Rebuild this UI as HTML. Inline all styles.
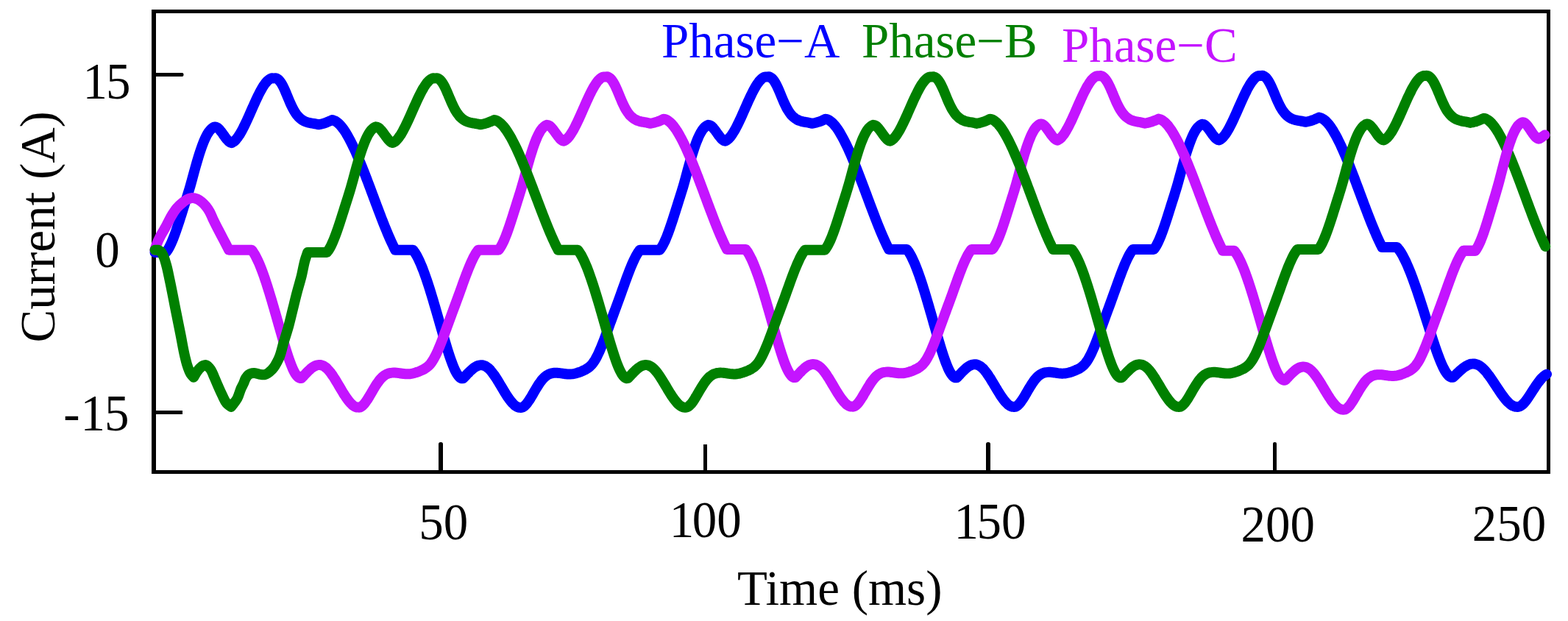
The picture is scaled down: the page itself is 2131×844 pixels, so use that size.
<!DOCTYPE html>
<html><head><meta charset="utf-8"><title>Three-phase current</title>
<style>html,body{margin:0;padding:0;background:#fff;}svg{display:block;}</style>
</head><body>
<svg width="2131" height="844" viewBox="0 0 2131 844">
<rect width="2131" height="844" fill="#fff"/>
<g fill="#000">
<rect x="206" y="13" width="6" height="631"/>
<rect x="2102" y="13" width="5" height="631"/>
<rect x="206" y="13" width="1901" height="5"/>
<rect x="206" y="639" width="1901" height="5"/>
<rect x="206" y="99" width="43.5" height="5" rx="2"/>
<rect x="206" y="558" width="42" height="5"/>
<rect x="596" y="601" width="6" height="40" rx="2.5"/>
<rect x="956" y="604" width="5" height="37"/>
<rect x="1340" y="601" width="6" height="40" rx="2.5"/>
<rect x="1730" y="601" width="5" height="40" rx="2"/>
</g>
<g fill="none" stroke-width="14" stroke-linejoin="round" stroke-linecap="round">
<path d="M210.50 343.00 L225.50 343.00 C226.17 342.12 226.88 341.26 227.51 340.35 C228.23 339.28 228.88 338.17 229.51 337.04 C230.23 335.77 230.88 334.47 231.52 333.16 C232.22 331.70 232.88 330.22 233.52 328.74 C234.22 327.13 234.88 325.50 235.53 323.87 C236.22 322.12 236.88 320.36 237.53 318.59 C238.22 316.73 238.88 314.85 239.54 312.98 C240.22 311.02 240.89 309.05 241.54 307.09 C242.22 305.05 242.89 303.02 243.55 300.98 C244.23 298.90 244.89 296.81 245.55 294.72 C246.23 292.61 246.89 290.49 247.56 288.38 C248.23 286.25 248.90 284.13 249.57 282.00 C250.23 279.89 250.90 277.77 251.57 275.66 C252.24 273.56 252.91 271.45 253.58 269.34 C254.25 267.21 254.92 265.07 255.58 262.93 C256.26 260.71 256.93 258.49 257.59 256.27 C258.27 253.93 258.94 251.59 259.59 249.24 C260.28 246.81 260.93 244.36 261.60 241.92 C262.27 239.45 262.93 236.98 263.60 234.52 C264.27 232.09 264.93 229.66 265.61 227.24 C266.27 224.89 266.93 222.55 267.61 220.22 C268.27 217.98 268.93 215.74 269.62 213.51 C270.27 211.40 270.94 209.28 271.63 207.17 C272.28 205.19 272.94 203.21 273.63 201.24 C274.28 199.41 274.94 197.58 275.64 195.77 C276.28 194.10 276.94 192.44 277.64 190.80 C278.28 189.32 278.93 187.84 279.65 186.39 C280.28 185.11 280.93 183.83 281.65 182.59 C282.28 181.51 282.94 180.43 283.66 179.41 C284.29 178.52 284.94 177.65 285.66 176.84 C286.29 176.13 286.95 175.44 287.67 174.83 C288.30 174.30 288.96 173.79 289.68 173.37 C290.31 172.99 291.01 172.73 291.68 172.41 C292.32 172.49 292.98 172.46 293.60 172.64 C294.30 172.85 294.92 173.25 295.52 173.65 C296.23 174.11 296.84 174.70 297.45 175.29 C298.13 175.95 298.75 176.68 299.37 177.41 C300.04 178.20 300.66 179.03 301.29 179.86 C301.95 180.73 302.57 181.63 303.21 182.51 C303.86 183.40 304.48 184.31 305.13 185.20 C305.77 186.07 306.39 186.94 307.06 187.78 C307.68 188.58 308.30 189.37 308.98 190.12 C309.59 190.79 310.21 191.47 310.90 192.05 C311.50 192.56 312.12 193.08 312.82 193.44 C313.43 193.75 314.10 193.91 314.74 194.14 C315.40 193.81 316.09 193.53 316.72 193.14 C317.42 192.71 318.07 192.18 318.69 191.64 C319.40 191.03 320.04 190.35 320.67 189.66 C321.37 188.89 322.01 188.07 322.64 187.25 C323.33 186.34 323.98 185.40 324.62 184.45 C325.30 183.42 325.95 182.36 326.59 181.30 C327.27 180.16 327.92 179.00 328.56 177.84 C329.24 176.61 329.90 175.37 330.54 174.12 C331.21 172.81 331.87 171.49 332.51 170.17 C333.18 168.79 333.84 167.41 334.49 166.03 C335.15 164.61 335.81 163.18 336.46 161.75 C337.13 160.29 337.78 158.82 338.44 157.36 C339.10 155.88 339.75 154.39 340.41 152.91 C341.07 151.42 341.73 149.93 342.38 148.44 C343.04 146.95 343.70 145.47 344.36 143.98 C345.01 142.52 345.67 141.05 346.33 139.59 C346.99 138.15 347.64 136.72 348.31 135.29 C348.96 133.90 349.61 132.52 350.28 131.14 C350.93 129.81 351.58 128.48 352.26 127.16 C352.90 125.91 353.55 124.65 354.23 123.41 C354.87 122.24 355.52 121.07 356.21 119.93 C356.84 118.85 357.49 117.78 358.18 116.74 C358.81 115.78 359.46 114.82 360.15 113.90 C360.78 113.06 361.43 112.23 362.13 111.45 C362.76 110.75 363.40 110.05 364.10 109.42 C364.73 108.87 365.37 108.32 366.08 107.87 C366.70 107.46 367.35 107.08 368.05 106.81 C368.69 106.57 369.35 106.38 370.03 106.31 C370.68 106.25 371.34 106.37 372.00 106.40 C372.68 106.31 373.35 106.09 374.03 106.14 C374.73 106.18 375.41 106.41 376.06 106.70 C376.80 107.03 377.45 107.54 378.08 108.05 C378.84 108.67 379.48 109.41 380.11 110.15 C380.86 111.04 381.50 112.00 382.14 112.97 C382.87 114.09 383.53 115.27 384.17 116.45 C384.89 117.80 385.54 119.17 386.19 120.55 C386.90 122.06 387.56 123.59 388.22 125.12 C388.91 126.72 389.58 128.34 390.25 129.95 C390.93 131.59 391.59 133.22 392.28 134.85 C392.94 136.44 393.61 138.03 394.30 139.60 C394.96 141.08 395.63 142.57 396.33 144.03 C396.98 145.39 397.65 146.74 398.36 148.07 C399.00 149.28 399.67 150.47 400.39 151.64 C401.03 152.69 401.70 153.72 402.41 154.72 C403.06 155.62 403.73 156.50 404.44 157.34 C405.09 158.11 405.76 158.85 406.47 159.56 C407.12 160.20 407.79 160.82 408.50 161.40 C409.15 161.94 409.82 162.44 410.52 162.91 C411.18 163.35 411.86 163.76 412.55 164.14 C413.21 164.49 413.89 164.82 414.58 165.11 C415.24 165.39 415.92 165.65 416.61 165.88 C417.27 166.10 417.95 166.29 418.63 166.47 C419.30 166.65 419.98 166.80 420.66 166.94 C421.33 167.08 422.01 167.21 422.69 167.33 C423.36 167.45 424.04 167.55 424.72 167.66 C425.39 167.78 426.07 167.88 426.74 168.00 C427.42 168.11 428.10 168.23 428.77 168.36 C429.45 168.50 430.13 168.64 430.80 168.81 C431.48 168.97 432.15 169.18 432.83 169.37 C433.51 169.23 434.20 169.09 434.88 168.95 C435.56 168.80 436.25 168.66 436.93 168.49 C437.62 168.33 438.31 168.16 438.99 167.98 C439.67 167.79 440.36 167.58 441.04 167.36 C441.73 167.14 442.41 166.89 443.09 166.64 C443.78 166.38 444.46 166.11 445.14 165.83 C445.83 165.55 446.52 165.25 447.20 164.95 C447.88 164.65 448.57 164.34 449.25 164.03 C449.94 163.72 450.62 163.40 451.30 163.09 C451.97 163.24 452.65 163.33 453.30 163.54 C453.99 163.76 454.65 164.05 455.30 164.37 C455.99 164.72 456.65 165.13 457.30 165.56 C457.99 166.03 458.65 166.56 459.29 167.10 C459.99 167.69 460.65 168.32 461.29 168.96 C461.99 169.66 462.65 170.39 463.29 171.13 C463.98 171.93 464.64 172.76 465.29 173.59 C465.98 174.49 466.64 175.40 467.28 176.33 C467.97 177.31 468.63 178.32 469.28 179.33 C469.97 180.39 470.63 181.48 471.28 182.56 C471.96 183.71 472.63 184.86 473.28 186.03 C473.96 187.24 474.62 188.47 475.27 189.70 C475.95 190.98 476.62 192.27 477.27 193.56 C477.95 194.91 478.61 196.26 479.27 197.61 C479.95 199.01 480.61 200.42 481.27 201.83 C481.94 203.28 482.61 204.74 483.27 206.21 C483.94 207.71 484.60 209.22 485.26 210.73 C485.94 212.27 486.60 213.83 487.26 215.38 C487.93 216.97 488.60 218.56 489.26 220.16 C489.93 221.79 490.60 223.42 491.26 225.05 C491.93 226.71 492.59 228.37 493.25 230.04 C493.92 231.73 494.59 233.42 495.25 235.12 C495.92 236.83 496.59 238.55 497.25 240.27 C497.92 242.01 498.58 243.75 499.25 245.49 C499.91 247.25 500.58 249.00 501.24 250.76 C501.91 252.53 502.58 254.31 503.24 256.08 C503.91 257.86 504.57 259.64 505.24 261.42 C505.91 263.21 506.57 264.99 507.24 266.78 C507.90 268.57 508.57 270.35 509.23 272.14 C509.90 273.92 510.56 275.70 511.23 277.49 C511.90 279.26 512.56 281.03 513.23 282.81 C513.89 284.57 514.56 286.33 515.23 288.09 C515.89 289.83 516.55 291.58 517.22 293.32 C517.89 295.04 518.55 296.76 519.22 298.48 C519.88 300.18 520.55 301.88 521.22 303.57 C521.88 305.24 522.54 306.90 523.22 308.56 C523.88 310.19 524.54 311.82 525.21 313.45 C525.87 315.04 526.54 316.63 527.21 318.22 C527.87 319.77 528.53 321.31 529.21 322.85 C529.87 324.35 530.53 325.85 531.21 327.34 C531.86 328.79 532.53 330.23 533.20 331.67 C533.86 333.06 534.52 334.45 535.20 335.83 C535.86 337.16 536.53 338.48 537.20 339.80 L561.30 339.80 C561.97 340.70 562.67 341.57 563.31 342.49 C564.02 343.51 564.67 344.58 565.31 345.65 C566.02 346.83 566.68 348.04 567.32 349.26 C568.02 350.59 568.68 351.93 569.32 353.29 C570.02 354.75 570.68 356.23 571.33 357.71 C572.02 359.30 572.69 360.90 573.34 362.50 C574.02 364.20 574.69 365.91 575.34 367.63 C576.03 369.43 576.69 371.25 577.35 373.06 C578.03 374.97 578.70 376.87 579.35 378.78 C580.04 380.77 580.70 382.76 581.36 384.76 C582.04 386.82 582.71 388.89 583.36 390.96 C584.04 393.09 584.71 395.22 585.37 397.36 C586.05 399.55 586.71 401.74 587.38 403.93 C588.05 406.17 588.72 408.40 589.38 410.64 C590.06 412.92 590.72 415.20 591.39 417.48 C592.06 419.78 592.73 422.09 593.39 424.40 C594.07 426.72 594.73 429.05 595.40 431.38 C596.07 433.71 596.74 436.05 597.41 438.38 C598.07 440.72 598.74 443.05 599.41 445.39 C600.08 447.71 600.75 450.03 601.42 452.35 C602.08 454.65 602.75 456.95 603.42 459.25 C604.09 461.51 604.75 463.78 605.43 466.04 C606.09 468.25 606.76 470.46 607.44 472.67 C608.09 474.81 608.76 476.95 609.44 479.08 C610.10 481.13 610.76 483.17 611.45 485.20 C612.10 487.12 612.76 489.05 613.45 490.95 C614.10 492.73 614.76 494.50 615.46 496.26 C616.10 497.86 616.75 499.46 617.46 501.03 C618.10 502.44 618.75 503.84 619.47 505.21 C620.10 506.39 620.74 507.58 621.48 508.70 C622.10 509.64 622.73 510.59 623.48 511.43 C624.10 512.11 624.72 512.81 625.49 513.32 C626.11 513.73 626.77 514.14 627.49 514.29 C628.15 514.43 628.83 514.27 629.50 514.27 C630.16 513.57 630.82 512.88 631.48 512.18 C632.14 511.48 632.80 510.77 633.46 510.07 C634.12 509.38 634.78 508.68 635.45 507.99 C636.10 507.30 636.76 506.62 637.43 505.95 C638.08 505.30 638.74 504.65 639.41 504.01 C640.06 503.40 640.72 502.79 641.39 502.20 C642.04 501.64 642.70 501.09 643.37 500.57 C644.02 500.07 644.68 499.58 645.36 499.14 C646.00 498.72 646.66 498.31 647.34 497.96 C647.98 497.62 648.64 497.31 649.32 497.06 C649.97 496.82 650.63 496.62 651.30 496.48 C651.95 496.34 652.62 496.25 653.28 496.22 C653.95 496.19 654.61 496.21 655.27 496.29 C655.94 496.37 656.60 496.52 657.25 496.70 C657.93 496.90 658.59 497.16 659.23 497.46 C659.92 497.78 660.58 498.15 661.21 498.56 C661.90 499.00 662.56 499.50 663.19 500.02 C663.89 500.59 664.54 501.21 665.18 501.84 C665.87 502.53 666.52 503.26 667.16 503.99 C667.85 504.78 668.50 505.60 669.14 506.43 C669.82 507.31 670.48 508.21 671.12 509.12 C671.80 510.07 672.46 511.04 673.11 512.01 C673.78 513.02 674.44 514.05 675.09 515.08 C675.76 516.13 676.41 517.20 677.07 518.27 C677.74 519.35 678.39 520.45 679.05 521.54 C679.72 522.65 680.37 523.76 681.03 524.87 C681.69 525.98 682.35 527.09 683.02 528.20 C683.67 529.30 684.33 530.40 685.00 531.49 C685.65 532.57 686.31 533.65 686.98 534.71 C687.63 535.76 688.29 536.79 688.96 537.82 C689.61 538.81 690.27 539.80 690.94 540.77 C691.59 541.70 692.24 542.62 692.93 543.52 C693.57 544.38 694.22 545.22 694.91 546.04 C695.55 546.80 696.20 547.56 696.89 548.28 C697.53 548.94 698.18 549.60 698.87 550.20 C699.51 550.75 700.16 551.29 700.85 551.76 C701.49 552.19 702.14 552.60 702.84 552.93 C703.47 553.23 704.13 553.49 704.82 553.65 C705.47 553.81 706.14 553.82 706.80 553.90 C707.47 553.90 708.15 554.02 708.81 553.91 C709.51 553.78 710.18 553.49 710.82 553.17 C711.55 552.80 712.20 552.28 712.83 551.77 C713.56 551.17 714.20 550.48 714.84 549.79 C715.56 549.01 716.21 548.17 716.85 547.33 C717.56 546.40 718.21 545.43 718.86 544.46 C719.55 543.41 720.21 542.35 720.87 541.28 C721.55 540.17 722.22 539.04 722.88 537.91 C723.56 536.76 724.22 535.61 724.89 534.46 C725.56 533.31 726.22 532.16 726.90 531.01 C727.56 529.88 728.23 528.75 728.91 527.63 C729.57 526.54 730.23 525.45 730.92 524.37 C731.58 523.34 732.24 522.31 732.93 521.30 C733.58 520.34 734.24 519.38 734.94 518.46 C735.59 517.59 736.25 516.73 736.95 515.91 C737.59 515.15 738.25 514.40 738.96 513.70 C739.60 513.06 740.27 512.44 740.97 511.86 C741.61 511.32 742.28 510.82 742.98 510.35 C743.63 509.92 744.30 509.51 744.99 509.15 C745.64 508.81 746.31 508.49 747.00 508.22 C747.65 507.96 748.33 507.74 749.01 507.55 C749.67 507.36 750.34 507.22 751.02 507.10 C751.68 506.98 752.35 506.90 753.03 506.84 C753.70 506.78 754.37 506.75 755.04 506.74 C755.71 506.73 756.38 506.75 757.05 506.78 C757.72 506.81 758.39 506.86 759.06 506.93 C759.73 506.99 760.40 507.07 761.07 507.15 C761.74 507.24 762.41 507.33 763.08 507.43 C763.75 507.52 764.42 507.63 765.09 507.73 C765.76 507.82 766.43 507.93 767.10 508.02 C767.77 508.11 768.43 508.20 769.11 508.28 C769.78 508.35 770.44 508.42 771.12 508.47 C771.79 508.52 772.46 508.56 773.13 508.57 C773.80 508.59 774.47 508.58 775.14 508.56 C775.81 508.53 776.48 508.48 777.15 508.40 C777.82 508.33 778.49 508.23 779.16 508.12 C779.83 508.00 780.50 507.87 781.17 507.72 C781.84 507.56 782.51 507.39 783.18 507.21 C783.85 507.02 784.52 506.82 785.19 506.60 C785.86 506.38 786.53 506.15 787.20 505.91 C787.87 505.66 788.54 505.40 789.20 505.14 C789.88 504.87 790.55 504.59 791.21 504.30 C791.89 504.01 792.56 503.72 793.22 503.41 C793.90 503.10 794.57 502.78 795.23 502.44 C795.91 502.09 796.59 501.72 797.24 501.33 C797.93 500.92 798.60 500.48 799.25 500.02 C799.95 499.52 800.62 498.99 801.26 498.44 C801.96 497.83 802.63 497.19 803.27 496.52 C803.98 495.78 804.65 495.01 805.28 494.21 C806.00 493.31 806.66 492.38 807.29 491.43 C808.01 490.37 808.66 489.27 809.30 488.17 C810.01 486.95 810.67 485.71 811.31 484.46 C812.01 483.11 812.67 481.74 813.32 480.36 C814.02 478.88 814.68 477.40 815.33 475.90 C816.02 474.33 816.69 472.74 817.34 471.15 C818.03 469.49 818.69 467.81 819.35 466.14 C820.04 464.41 820.70 462.67 821.36 460.93 C822.04 459.14 822.71 457.35 823.37 455.56 C824.05 453.73 824.72 451.91 825.38 450.08 C826.06 448.24 826.72 446.39 827.39 444.54 C828.06 442.69 828.73 440.84 829.40 438.99 C830.07 437.15 830.74 435.32 831.41 433.48 C832.08 431.65 832.75 429.83 833.42 428.00 C834.09 426.18 834.76 424.36 835.43 422.54 C836.10 420.72 836.77 418.90 837.44 417.08 C838.11 415.26 838.78 413.44 839.45 411.61 C840.12 409.78 840.79 407.95 841.46 406.11 C842.13 404.26 842.80 402.42 843.47 400.57 C844.14 398.70 844.81 396.83 845.48 394.96 C846.15 393.09 846.82 391.22 847.49 389.34 C848.16 387.48 848.83 385.61 849.50 383.75 C850.17 381.91 850.83 380.07 851.51 378.23 C852.17 376.43 852.84 374.64 853.52 372.84 C854.18 371.10 854.85 369.35 855.53 367.62 C856.19 365.94 856.85 364.27 857.54 362.61 C858.20 361.02 858.86 359.44 859.55 357.87 C860.20 356.38 860.87 354.91 861.56 353.44 C862.21 352.07 862.87 350.71 863.57 349.37 C864.21 348.14 864.87 346.91 865.58 345.71 C866.22 344.62 866.88 343.54 867.59 342.50 C868.23 341.58 868.93 340.70 869.60 339.80 L896.50 339.80 C897.17 338.92 897.88 338.07 898.50 337.16 C899.23 336.11 899.87 335.00 900.50 333.88 C901.21 332.61 901.86 331.31 902.50 330.01 C903.20 328.56 903.86 327.09 904.50 325.61 C905.20 324.01 905.85 322.39 906.50 320.76 C907.19 319.02 907.85 317.26 908.50 315.50 C909.19 313.64 909.85 311.78 910.50 309.91 C911.18 307.96 911.84 306.00 912.50 304.04 C913.18 302.01 913.84 299.98 914.50 297.95 C915.17 295.88 915.84 293.80 916.50 291.72 C917.17 289.61 917.83 287.50 918.50 285.39 C919.17 283.27 919.83 281.15 920.50 279.04 C921.17 276.93 921.83 274.82 922.50 272.72 C923.17 270.62 923.84 268.52 924.50 266.42 C925.17 264.29 925.84 262.16 926.50 260.02 C927.18 257.81 927.85 255.60 928.50 253.38 C929.18 251.06 929.85 248.72 930.50 246.38 C931.18 243.95 931.84 241.52 932.50 239.08 C933.17 236.62 933.83 234.16 934.50 231.70 C935.16 229.28 935.82 226.86 936.50 224.44 C937.16 222.10 937.82 219.77 938.50 217.44 C939.15 215.21 939.82 212.98 940.50 210.76 C941.15 208.65 941.81 206.54 942.50 204.44 C943.15 202.46 943.81 200.49 944.50 198.53 C945.14 196.70 945.80 194.88 946.50 193.07 C947.14 191.42 947.80 189.76 948.50 188.13 C949.14 186.65 949.79 185.18 950.50 183.74 C951.13 182.46 951.78 181.19 952.50 179.95 C953.13 178.88 953.78 177.81 954.50 176.79 C955.13 175.91 955.78 175.04 956.50 174.24 C957.13 173.54 957.78 172.85 958.50 172.25 C959.13 171.72 959.79 171.21 960.50 170.80 C961.14 170.43 961.83 170.17 962.50 169.86 C963.14 169.94 963.80 169.91 964.42 170.10 C965.11 170.31 965.73 170.72 966.33 171.12 C967.03 171.59 967.65 172.18 968.25 172.77 C968.94 173.44 969.55 174.17 970.17 174.91 C970.84 175.70 971.46 176.54 972.08 177.37 C972.74 178.25 973.36 179.14 974.00 180.03 C974.64 180.93 975.27 181.84 975.92 182.73 C976.55 183.60 977.17 184.48 977.83 185.33 C978.45 186.13 979.07 186.93 979.75 187.68 C980.36 188.35 980.97 189.03 981.67 189.62 C982.27 190.14 982.88 190.66 983.58 191.02 C984.19 191.34 984.86 191.50 985.50 191.73 C986.16 191.41 986.84 191.14 987.47 190.76 C988.17 190.33 988.81 189.80 989.44 189.26 C990.14 188.66 990.78 187.99 991.41 187.30 C992.10 186.54 992.75 185.73 993.38 184.91 C994.07 184.01 994.71 183.07 995.34 182.13 C996.03 181.10 996.68 180.05 997.31 179.00 C997.99 177.86 998.64 176.71 999.28 175.56 C999.96 174.33 1000.61 173.09 1001.25 171.85 C1001.92 170.55 1002.58 169.23 1003.22 167.92 C1003.89 166.55 1004.54 165.17 1005.19 163.80 C1005.86 162.38 1006.51 160.96 1007.16 159.53 C1007.82 158.08 1008.48 156.62 1009.13 155.16 C1009.79 153.69 1010.44 152.21 1011.10 150.73 C1011.75 149.25 1012.41 147.76 1013.07 146.28 C1013.72 144.80 1014.37 143.32 1015.03 141.84 C1015.69 140.38 1016.34 138.92 1017.00 137.47 C1017.65 136.04 1018.31 134.61 1018.97 133.19 C1019.62 131.81 1020.27 130.43 1020.94 129.05 C1021.59 127.73 1022.24 126.41 1022.91 125.10 C1023.55 123.85 1024.20 122.60 1024.88 121.37 C1025.52 120.20 1026.17 119.04 1026.85 117.90 C1027.48 116.83 1028.13 115.77 1028.82 114.73 C1029.45 113.77 1030.10 112.82 1030.79 111.91 C1031.41 111.08 1032.06 110.25 1032.76 109.47 C1033.38 108.77 1034.02 108.09 1034.72 107.46 C1035.35 106.91 1035.99 106.37 1036.69 105.92 C1037.32 105.52 1037.97 105.14 1038.66 104.88 C1039.30 104.65 1039.96 104.46 1040.63 104.40 C1041.29 104.34 1041.94 104.47 1042.60 104.50 C1043.28 104.42 1043.95 104.20 1044.63 104.25 C1045.33 104.30 1046.02 104.54 1046.66 104.83 C1047.40 105.16 1048.06 105.68 1048.69 106.19 C1049.44 106.82 1050.09 107.56 1050.72 108.31 C1051.47 109.20 1052.12 110.17 1052.75 111.14 C1053.49 112.27 1054.14 113.45 1054.78 114.63 C1055.51 115.98 1056.16 117.36 1056.81 118.75 C1057.52 120.26 1058.18 121.79 1058.84 123.32 C1059.53 124.93 1060.20 126.55 1060.87 128.17 C1061.55 129.80 1062.21 131.44 1062.90 133.08 C1063.57 134.67 1064.23 136.26 1064.93 137.83 C1065.59 139.32 1066.26 140.81 1066.96 142.28 C1067.61 143.64 1068.28 145.00 1068.99 146.33 C1069.64 147.54 1070.30 148.74 1071.02 149.91 C1071.66 150.96 1072.33 151.99 1073.05 153.00 C1073.70 153.90 1074.37 154.79 1075.08 155.64 C1075.73 156.40 1076.40 157.15 1077.11 157.86 C1077.76 158.51 1078.43 159.13 1079.14 159.72 C1079.79 160.26 1080.47 160.77 1081.17 161.24 C1081.83 161.69 1082.50 162.10 1083.20 162.48 C1083.86 162.84 1084.54 163.17 1085.23 163.47 C1085.90 163.76 1086.57 164.01 1087.26 164.25 C1087.93 164.48 1088.61 164.68 1089.29 164.86 C1089.96 165.04 1090.64 165.20 1091.32 165.35 C1091.99 165.49 1092.67 165.62 1093.35 165.74 C1094.03 165.87 1094.70 165.98 1095.38 166.10 C1096.06 166.21 1096.73 166.32 1097.41 166.44 C1098.09 166.56 1098.77 166.68 1099.44 166.82 C1100.12 166.96 1100.80 167.11 1101.47 167.28 C1102.15 167.45 1102.82 167.66 1103.50 167.86 C1104.19 167.72 1104.87 167.59 1105.56 167.45 C1106.24 167.31 1106.93 167.17 1107.61 167.02 C1108.30 166.86 1108.99 166.70 1109.67 166.51 C1110.36 166.33 1111.04 166.13 1111.72 165.92 C1112.41 165.70 1113.10 165.46 1113.78 165.21 C1114.47 164.96 1115.15 164.69 1115.83 164.41 C1116.52 164.14 1117.21 163.85 1117.89 163.55 C1118.58 163.26 1119.26 162.95 1119.94 162.65 C1120.63 162.34 1121.31 162.03 1122.00 161.72 C1122.67 161.87 1123.35 161.98 1124.00 162.19 C1124.69 162.41 1125.35 162.70 1126.00 163.03 C1126.69 163.38 1127.36 163.80 1128.00 164.24 C1128.70 164.71 1129.36 165.24 1130.00 165.79 C1130.70 166.38 1131.36 167.01 1132.00 167.66 C1132.69 168.36 1133.36 169.10 1134.00 169.84 C1134.69 170.65 1135.35 171.48 1136.00 172.32 C1136.69 173.22 1137.35 174.14 1138.00 175.07 C1138.69 176.06 1139.35 177.06 1140.00 178.08 C1140.69 179.15 1141.35 180.23 1142.00 181.32 C1142.68 182.47 1143.35 183.63 1144.00 184.80 C1144.68 186.02 1145.35 187.25 1146.00 188.48 C1146.68 189.77 1147.35 191.06 1148.00 192.36 C1148.68 193.70 1149.34 195.06 1150.00 196.42 C1150.68 197.82 1151.34 199.23 1152.00 200.65 C1152.68 202.10 1153.34 203.57 1154.00 205.03 C1154.68 206.54 1155.34 208.05 1156.00 209.56 C1156.68 211.12 1157.34 212.67 1158.00 214.23 C1158.67 215.82 1159.34 217.42 1160.00 219.02 C1160.67 220.65 1161.34 222.28 1162.00 223.92 C1162.67 225.58 1163.34 227.25 1164.00 228.92 C1164.67 230.61 1165.34 232.31 1166.00 234.00 C1166.67 235.72 1167.34 237.44 1168.00 239.17 C1168.67 240.91 1169.34 242.65 1170.00 244.40 C1170.67 246.16 1171.34 247.92 1172.00 249.68 C1172.67 251.46 1173.33 253.23 1174.00 255.01 C1174.67 256.79 1175.33 258.57 1176.00 260.36 C1176.67 262.15 1177.33 263.94 1178.00 265.73 C1178.67 267.52 1179.33 269.31 1180.00 271.10 C1180.67 272.88 1181.33 274.67 1182.00 276.45 C1182.67 278.23 1183.33 280.01 1184.00 281.78 C1184.66 283.55 1185.33 285.31 1186.00 287.08 C1186.66 288.82 1187.33 290.57 1188.00 292.32 C1188.66 294.04 1189.33 295.77 1190.00 297.49 C1190.66 299.19 1191.33 300.89 1192.00 302.59 C1192.66 304.26 1193.33 305.92 1194.00 307.59 C1194.66 309.22 1195.33 310.86 1196.00 312.49 C1196.66 314.08 1197.33 315.68 1198.00 317.26 C1198.66 318.82 1199.32 320.37 1200.00 321.91 C1200.66 323.41 1201.32 324.91 1202.00 326.41 C1202.66 327.86 1203.32 329.31 1204.00 330.75 C1204.66 332.14 1205.32 333.53 1206.00 334.92 C1206.65 336.25 1207.33 337.57 1208.00 338.90 L1232.50 338.90 C1233.17 339.79 1233.86 340.67 1234.50 341.58 C1235.20 342.61 1235.86 343.67 1236.49 344.74 C1237.19 345.93 1237.85 347.14 1238.49 348.35 C1239.19 349.68 1239.84 351.03 1240.48 352.38 C1241.18 353.84 1241.84 355.32 1242.48 356.80 C1243.17 358.39 1243.83 359.99 1244.48 361.59 C1245.16 363.29 1245.82 365.00 1246.47 366.71 C1247.16 368.52 1247.82 370.33 1248.47 372.15 C1249.15 374.05 1249.81 375.95 1250.47 377.86 C1251.15 379.85 1251.81 381.84 1252.46 383.83 C1253.14 385.89 1253.80 387.96 1254.46 390.03 C1255.13 392.16 1255.80 394.29 1256.45 396.43 C1257.13 398.61 1257.79 400.80 1258.45 402.99 C1259.12 405.23 1259.79 407.47 1260.45 409.70 C1261.12 411.98 1261.78 414.26 1262.44 416.53 C1263.11 418.84 1263.78 421.14 1264.44 423.45 C1265.11 425.77 1265.77 428.10 1266.44 430.42 C1267.10 432.76 1267.77 435.09 1268.43 437.43 C1269.10 439.76 1269.76 442.09 1270.43 444.43 C1271.09 446.75 1271.76 449.07 1272.42 451.39 C1273.09 453.69 1273.75 455.98 1274.42 458.28 C1275.08 460.54 1275.74 462.81 1276.42 465.07 C1277.08 467.28 1277.74 469.49 1278.41 471.70 C1279.07 473.83 1279.73 475.97 1280.41 478.10 C1281.06 480.14 1281.72 482.19 1282.41 484.22 C1283.05 486.14 1283.71 488.06 1284.40 489.97 C1285.05 491.74 1285.70 493.51 1286.40 495.27 C1287.04 496.87 1287.69 498.47 1288.39 500.04 C1289.03 501.45 1289.67 502.85 1290.39 504.21 C1291.02 505.40 1291.65 506.58 1292.39 507.70 C1293.00 508.64 1293.63 509.59 1294.38 510.43 C1295.00 511.11 1295.62 511.81 1296.38 512.32 C1296.99 512.73 1297.65 513.14 1298.38 513.29 C1299.03 513.43 1299.71 513.28 1300.37 513.27 C1301.03 512.57 1301.69 511.88 1302.34 511.18 C1303.00 510.48 1303.66 509.78 1304.32 509.08 C1304.97 508.38 1305.63 507.68 1306.29 506.99 C1306.94 506.31 1307.60 505.63 1308.26 504.96 C1308.91 504.31 1309.57 503.66 1310.23 503.02 C1310.88 502.41 1311.53 501.80 1312.21 501.22 C1312.85 500.66 1313.50 500.11 1314.18 499.58 C1314.82 499.09 1315.47 498.60 1316.15 498.16 C1316.79 497.74 1317.45 497.33 1318.12 496.98 C1318.76 496.64 1319.42 496.33 1320.10 496.08 C1320.74 495.84 1321.40 495.64 1322.07 495.50 C1322.72 495.36 1323.38 495.27 1324.04 495.24 C1324.70 495.21 1325.36 495.24 1326.01 495.32 C1326.68 495.40 1327.34 495.54 1327.99 495.73 C1328.66 495.92 1329.32 496.18 1329.96 496.48 C1330.64 496.80 1331.30 497.18 1331.93 497.59 C1332.62 498.03 1333.27 498.53 1333.90 499.05 C1334.60 499.61 1335.24 500.23 1335.88 500.86 C1336.57 501.55 1337.21 502.28 1337.85 503.01 C1338.53 503.80 1339.18 504.62 1339.82 505.45 C1340.50 506.33 1341.15 507.23 1341.79 508.14 C1342.47 509.09 1343.12 510.06 1343.77 511.03 C1344.44 512.04 1345.09 513.07 1345.74 514.09 C1346.41 515.15 1347.06 516.21 1347.71 517.28 C1348.38 518.37 1349.03 519.46 1349.68 520.56 C1350.35 521.66 1351.00 522.77 1351.66 523.88 C1352.32 524.99 1352.97 526.10 1353.63 527.21 C1354.28 528.31 1354.94 529.41 1355.60 530.50 C1356.25 531.58 1356.91 532.65 1357.57 533.72 C1358.22 534.76 1358.88 535.80 1359.55 536.83 C1360.19 537.82 1360.85 538.80 1361.52 539.77 C1362.16 540.70 1362.81 541.62 1363.49 542.53 C1364.13 543.38 1364.78 544.22 1365.46 545.04 C1366.10 545.81 1366.75 546.56 1367.44 547.28 C1368.07 547.94 1368.72 548.60 1369.41 549.20 C1370.04 549.75 1370.69 550.29 1371.38 550.76 C1372.01 551.19 1372.66 551.60 1373.35 551.93 C1373.99 552.23 1374.65 552.49 1375.33 552.65 C1375.97 552.81 1376.64 552.82 1377.30 552.90 C1377.97 552.90 1378.65 553.02 1379.30 552.91 C1380.01 552.79 1380.67 552.49 1381.31 552.17 C1382.03 551.80 1382.68 551.29 1383.31 550.77 C1384.04 550.18 1384.68 549.49 1385.32 548.80 C1386.03 548.02 1386.68 547.18 1387.32 546.33 C1388.03 545.40 1388.68 544.44 1389.33 543.47 C1390.02 542.42 1390.68 541.36 1391.33 540.29 C1392.01 539.18 1392.67 538.05 1393.33 536.93 C1394.01 535.78 1394.67 534.63 1395.34 533.48 C1396.01 532.33 1396.67 531.18 1397.34 530.03 C1398.01 528.90 1398.67 527.78 1399.35 526.66 C1400.01 525.57 1400.67 524.48 1401.35 523.40 C1402.01 522.37 1402.67 521.34 1403.36 520.33 C1404.01 519.37 1404.67 518.42 1405.36 517.49 C1406.01 516.62 1406.67 515.77 1407.36 514.94 C1408.01 514.18 1408.67 513.44 1409.37 512.74 C1410.01 512.10 1410.67 511.48 1411.37 510.90 C1412.02 510.36 1412.68 509.86 1413.38 509.39 C1414.02 508.96 1414.69 508.55 1415.38 508.19 C1416.03 507.85 1416.70 507.54 1417.39 507.27 C1418.04 507.01 1418.71 506.78 1419.39 506.59 C1420.05 506.41 1420.72 506.26 1421.40 506.14 C1422.06 506.03 1422.73 505.94 1423.40 505.88 C1424.07 505.82 1424.73 505.80 1425.40 505.79 C1426.07 505.78 1426.74 505.80 1427.41 505.83 C1428.08 505.86 1428.75 505.91 1429.41 505.97 C1430.08 506.04 1430.75 506.12 1431.42 506.20 C1432.09 506.28 1432.75 506.38 1433.42 506.48 C1434.09 506.57 1434.76 506.68 1435.43 506.78 C1436.09 506.88 1436.76 506.98 1437.43 507.07 C1438.10 507.16 1438.76 507.25 1439.43 507.33 C1440.10 507.40 1440.77 507.47 1441.44 507.52 C1442.11 507.57 1442.77 507.61 1443.44 507.63 C1444.11 507.64 1444.78 507.64 1445.45 507.61 C1446.12 507.58 1446.79 507.53 1447.45 507.46 C1448.12 507.38 1448.79 507.29 1449.46 507.17 C1450.13 507.06 1450.80 506.92 1451.46 506.77 C1452.13 506.62 1452.80 506.45 1453.46 506.26 C1454.14 506.08 1454.80 505.87 1455.47 505.66 C1456.14 505.44 1456.81 505.21 1457.47 504.97 C1458.15 504.72 1458.81 504.46 1459.48 504.20 C1460.15 503.93 1460.82 503.65 1461.48 503.36 C1462.15 503.07 1462.82 502.78 1463.49 502.47 C1464.16 502.16 1464.83 501.84 1465.49 501.50 C1466.17 501.15 1466.84 500.79 1467.49 500.40 C1468.18 499.98 1468.85 499.55 1469.50 499.08 C1470.19 498.59 1470.86 498.06 1471.50 497.50 C1472.20 496.90 1472.87 496.26 1473.51 495.59 C1474.21 494.85 1474.88 494.08 1475.51 493.28 C1476.22 492.39 1476.88 491.45 1477.52 490.51 C1478.23 489.45 1478.88 488.35 1479.52 487.25 C1480.22 486.03 1480.88 484.79 1481.52 483.54 C1482.22 482.19 1482.88 480.82 1483.53 479.44 C1484.22 477.97 1484.88 476.48 1485.53 474.99 C1486.22 473.42 1486.88 471.83 1487.54 470.24 C1488.22 468.58 1488.89 466.91 1489.54 465.24 C1490.22 463.51 1490.89 461.77 1491.55 460.03 C1492.22 458.24 1492.89 456.45 1493.55 454.66 C1494.22 452.84 1494.89 451.02 1495.55 449.19 C1496.23 447.35 1496.89 445.50 1497.56 443.66 C1498.23 441.81 1498.89 439.96 1499.56 438.11 C1500.23 436.27 1500.90 434.44 1501.57 432.60 C1502.23 430.78 1502.90 428.95 1503.57 427.13 C1504.24 425.31 1504.91 423.49 1505.58 421.67 C1506.24 419.85 1506.91 418.04 1507.58 416.22 C1508.25 414.40 1508.92 412.58 1509.59 410.75 C1510.25 408.92 1510.92 407.09 1511.59 405.26 C1512.26 403.41 1512.93 401.56 1513.59 399.72 C1514.26 397.85 1514.93 395.98 1515.60 394.12 C1516.27 392.25 1516.93 390.37 1517.60 388.50 C1518.27 386.64 1518.93 384.78 1519.61 382.92 C1520.27 381.08 1520.94 379.24 1521.61 377.40 C1522.27 375.60 1522.94 373.81 1523.62 372.01 C1524.27 370.27 1524.94 368.53 1525.62 366.79 C1526.28 365.12 1526.94 363.45 1527.62 361.79 C1528.28 360.21 1528.94 358.62 1529.63 357.05 C1530.28 355.57 1530.94 354.09 1531.63 352.63 C1532.28 351.26 1532.94 349.90 1533.64 348.56 C1534.28 347.33 1534.94 346.10 1535.64 344.91 C1536.28 343.82 1536.93 342.74 1537.65 341.70 C1538.28 340.78 1538.98 339.90 1539.65 339.00 L1567.95 339.00 C1568.61 338.12 1569.32 337.27 1569.94 336.35 C1570.67 335.29 1571.31 334.18 1571.93 333.06 C1572.65 331.79 1573.29 330.49 1573.93 329.18 C1574.63 327.73 1575.28 326.26 1575.92 324.78 C1576.61 323.17 1577.27 321.54 1577.91 319.91 C1578.60 318.17 1579.26 316.41 1579.90 314.65 C1580.59 312.79 1581.25 310.92 1581.90 309.05 C1582.58 307.10 1583.24 305.13 1583.89 303.17 C1584.56 301.15 1585.23 299.11 1585.88 297.08 C1586.55 295.00 1587.21 292.92 1587.87 290.84 C1588.54 288.73 1589.20 286.62 1589.87 284.51 C1590.53 282.39 1591.19 280.27 1591.86 278.15 C1592.52 276.04 1593.19 273.93 1593.85 271.82 C1594.52 269.72 1595.19 267.62 1595.84 265.52 C1596.51 263.39 1597.18 261.25 1597.84 259.12 C1598.51 256.91 1599.18 254.69 1599.83 252.47 C1600.51 250.14 1601.17 247.81 1601.82 245.47 C1602.50 243.04 1603.15 240.60 1603.81 238.16 C1604.48 235.70 1605.14 233.23 1605.81 230.77 C1606.47 228.35 1607.12 225.93 1607.80 223.51 C1608.45 221.17 1609.11 218.84 1609.79 216.51 C1610.44 214.27 1611.10 212.04 1611.78 209.82 C1612.43 207.71 1613.09 205.59 1613.78 203.49 C1614.42 201.51 1615.08 199.54 1615.77 197.57 C1616.41 195.75 1617.07 193.92 1617.76 192.12 C1618.40 190.45 1619.05 188.80 1619.75 187.16 C1620.39 185.68 1621.04 184.21 1621.75 182.76 C1622.38 181.48 1623.02 180.21 1623.74 178.97 C1624.36 177.89 1625.01 176.82 1625.73 175.80 C1626.36 174.91 1627.00 174.04 1627.72 173.23 C1628.35 172.53 1629.00 171.84 1629.72 171.23 C1630.34 170.70 1631.00 170.19 1631.71 169.77 C1632.34 169.40 1633.04 169.14 1633.70 168.82 C1634.34 168.90 1635.00 168.87 1635.61 169.05 C1636.30 169.26 1636.92 169.66 1637.52 170.06 C1638.22 170.52 1638.83 171.11 1639.43 171.69 C1640.11 172.35 1640.73 173.08 1641.34 173.81 C1642.01 174.60 1642.63 175.43 1643.25 176.26 C1643.90 177.13 1644.53 178.02 1645.16 178.90 C1645.80 179.80 1646.42 180.70 1647.07 181.59 C1647.70 182.45 1648.32 183.33 1648.98 184.17 C1649.59 184.96 1650.21 185.75 1650.89 186.50 C1651.49 187.17 1652.11 187.84 1652.80 188.43 C1653.40 188.94 1654.01 189.46 1654.71 189.82 C1655.31 190.13 1655.98 190.28 1656.61 190.51 C1657.27 190.18 1657.95 189.91 1658.58 189.52 C1659.28 189.09 1659.92 188.56 1660.54 188.02 C1661.24 187.41 1661.88 186.73 1662.50 186.05 C1663.19 185.28 1663.84 184.47 1664.46 183.64 C1665.15 182.74 1665.79 181.80 1666.42 180.85 C1667.11 179.82 1667.75 178.77 1668.38 177.71 C1669.06 176.58 1669.71 175.42 1670.35 174.26 C1671.02 173.03 1671.67 171.79 1672.31 170.55 C1672.98 169.24 1673.63 167.92 1674.27 166.60 C1674.94 165.23 1675.59 163.86 1676.23 162.48 C1676.89 161.06 1677.54 159.63 1678.19 158.21 C1678.85 156.75 1679.50 155.29 1680.15 153.83 C1680.81 152.35 1681.46 150.87 1682.12 149.39 C1682.77 147.90 1683.42 146.41 1684.08 144.93 C1684.73 143.45 1685.38 141.96 1686.04 140.48 C1686.69 139.02 1687.34 137.56 1688.00 136.10 C1688.65 134.67 1689.30 133.24 1689.96 131.81 C1690.61 130.43 1691.26 129.05 1691.92 127.67 C1692.57 126.34 1693.21 125.02 1693.88 123.71 C1694.52 122.45 1695.17 121.20 1695.85 119.97 C1696.48 118.80 1697.13 117.63 1697.81 116.49 C1698.44 115.42 1699.09 114.35 1699.77 113.31 C1700.40 112.35 1701.04 111.40 1701.73 110.48 C1702.36 109.64 1703.00 108.82 1703.69 108.03 C1704.32 107.33 1704.96 106.64 1705.65 106.01 C1706.27 105.46 1706.92 104.91 1707.62 104.46 C1708.24 104.06 1708.88 103.67 1709.58 103.41 C1710.21 103.17 1710.87 102.98 1711.54 102.91 C1712.19 102.85 1712.85 102.97 1713.50 103.00 C1714.17 102.91 1714.84 102.69 1715.52 102.74 C1716.22 102.78 1716.91 103.02 1717.55 103.30 C1718.29 103.63 1718.94 104.14 1719.57 104.65 C1720.32 105.27 1720.97 106.01 1721.59 106.75 C1722.34 107.63 1722.98 108.59 1723.62 109.56 C1724.35 110.68 1725.00 111.86 1725.64 113.04 C1726.36 114.38 1727.02 115.76 1727.66 117.13 C1728.37 118.64 1729.03 120.16 1729.69 121.69 C1730.38 123.29 1731.04 124.90 1731.71 126.51 C1732.39 128.14 1733.05 129.78 1733.73 131.40 C1734.40 132.99 1735.06 134.57 1735.76 136.14 C1736.41 137.62 1737.08 139.10 1737.78 140.57 C1738.43 141.92 1739.09 143.27 1739.80 144.60 C1740.45 145.80 1741.11 147.00 1741.83 148.16 C1742.47 149.21 1743.13 150.24 1743.85 151.23 C1744.49 152.13 1745.16 153.01 1745.87 153.85 C1746.52 154.62 1747.19 155.36 1747.90 156.06 C1748.54 156.71 1749.21 157.33 1749.92 157.91 C1750.57 158.44 1751.24 158.95 1751.94 159.42 C1752.60 159.85 1753.27 160.26 1753.96 160.64 C1754.62 160.99 1755.30 161.32 1755.99 161.61 C1756.65 161.89 1757.33 162.15 1758.01 162.38 C1758.68 162.60 1759.35 162.79 1760.03 162.97 C1760.70 163.15 1761.38 163.30 1762.06 163.44 C1762.73 163.58 1763.41 163.71 1764.08 163.83 C1764.75 163.95 1765.43 164.05 1766.10 164.16 C1766.78 164.28 1767.45 164.38 1768.13 164.50 C1768.80 164.61 1769.48 164.73 1770.15 164.86 C1770.83 165.00 1771.50 165.14 1772.17 165.31 C1772.85 165.48 1773.52 165.68 1774.20 165.87 C1774.88 165.73 1775.56 165.59 1776.25 165.45 C1776.93 165.31 1777.61 165.16 1778.29 165.00 C1778.98 164.84 1779.66 164.67 1780.34 164.49 C1781.03 164.30 1781.71 164.09 1782.39 163.87 C1783.08 163.65 1783.76 163.41 1784.44 163.16 C1785.13 162.90 1785.81 162.63 1786.49 162.35 C1787.18 162.07 1787.86 161.77 1788.54 161.47 C1789.22 161.17 1789.91 160.86 1790.59 160.55 C1791.27 160.24 1791.95 159.93 1792.64 159.61 C1793.30 159.76 1793.98 159.86 1794.63 160.07 C1795.32 160.28 1795.98 160.58 1796.62 160.90 C1797.31 161.24 1797.97 161.66 1798.62 162.09 C1799.31 162.56 1799.97 163.08 1800.61 163.62 C1801.30 164.21 1801.96 164.84 1802.60 165.48 C1803.30 166.18 1803.95 166.90 1804.60 167.65 C1805.29 168.44 1805.95 169.27 1806.59 170.11 C1807.28 171.00 1807.94 171.91 1808.58 172.84 C1809.27 173.82 1809.93 174.82 1810.58 175.83 C1811.26 176.89 1811.92 177.97 1812.57 179.06 C1813.25 180.20 1813.91 181.36 1814.56 182.52 C1815.24 183.73 1815.90 184.95 1816.56 186.18 C1817.23 187.46 1817.90 188.75 1818.55 190.04 C1819.23 191.38 1819.89 192.73 1820.54 194.08 C1821.22 195.48 1821.88 196.88 1822.54 198.29 C1823.21 199.74 1823.87 201.20 1824.53 202.66 C1825.20 204.16 1825.87 205.66 1826.52 207.17 C1827.20 208.72 1827.86 210.27 1828.52 211.82 C1829.19 213.40 1829.85 214.99 1830.51 216.59 C1831.18 218.21 1831.84 219.84 1832.50 221.47 C1833.17 223.12 1833.84 224.78 1834.50 226.45 C1835.17 228.13 1835.83 229.82 1836.49 231.51 C1837.16 233.23 1837.82 234.94 1838.48 236.66 C1839.15 238.39 1839.81 240.13 1840.48 241.87 C1841.14 243.62 1841.81 245.38 1842.47 247.13 C1843.14 248.90 1843.80 250.67 1844.46 252.44 C1845.13 254.21 1845.79 255.99 1846.46 257.77 C1847.12 259.55 1847.79 261.34 1848.45 263.12 C1849.11 264.90 1849.78 266.68 1850.44 268.47 C1851.11 270.25 1851.77 272.02 1852.44 273.80 C1853.10 275.57 1853.76 277.35 1854.43 279.11 C1855.09 280.87 1855.76 282.63 1856.42 284.39 C1857.08 286.13 1857.75 287.87 1858.42 289.61 C1859.08 291.33 1859.74 293.05 1860.41 294.76 C1861.07 296.46 1861.73 298.15 1862.40 299.84 C1863.06 301.50 1863.73 303.16 1864.40 304.82 C1865.06 306.45 1865.72 308.08 1866.39 309.70 C1867.05 311.29 1867.71 312.88 1868.38 314.46 C1869.04 316.00 1869.70 317.55 1870.38 319.08 C1871.03 320.58 1871.70 322.08 1872.37 323.57 C1873.02 325.01 1873.69 326.45 1874.36 327.89 C1875.02 329.28 1875.68 330.66 1876.36 332.04 C1877.01 333.36 1877.69 334.68 1878.35 336.00 L1898.60 336.00 C1899.35 336.91 1900.13 337.79 1900.84 338.72 C1901.63 339.76 1902.37 340.84 1903.09 341.92 C1903.87 343.12 1904.61 344.35 1905.33 345.58 C1906.11 346.92 1906.85 348.29 1907.57 349.67 C1908.35 351.14 1909.09 352.64 1909.82 354.15 C1910.59 355.75 1911.33 357.37 1912.06 359.00 C1912.83 360.72 1913.57 362.45 1914.30 364.19 C1915.07 366.02 1915.81 367.86 1916.54 369.70 C1917.31 371.62 1918.05 373.56 1918.79 375.49 C1919.55 377.51 1920.29 379.52 1921.03 381.55 C1921.79 383.64 1922.54 385.73 1923.27 387.83 C1924.03 389.98 1924.78 392.15 1925.52 394.31 C1926.27 396.53 1927.02 398.75 1927.76 400.97 C1928.51 403.23 1929.26 405.50 1930.00 407.77 C1930.76 410.08 1931.50 412.38 1932.25 414.69 C1933.00 417.03 1933.74 419.37 1934.49 421.70 C1935.24 424.06 1935.98 426.42 1936.73 428.77 C1937.48 431.14 1938.23 433.51 1938.97 435.87 C1939.72 438.24 1940.47 440.60 1941.22 442.97 C1941.96 445.32 1942.71 447.67 1943.46 450.02 C1944.20 452.35 1944.95 454.68 1945.70 457.01 C1946.45 459.31 1947.19 461.60 1947.95 463.89 C1948.69 466.13 1949.43 468.38 1950.19 470.61 C1950.93 472.78 1951.67 474.95 1952.43 477.11 C1953.16 479.18 1953.91 481.25 1954.68 483.31 C1955.40 485.25 1956.14 487.20 1956.92 489.13 C1957.64 490.93 1958.38 492.73 1959.16 494.50 C1959.88 496.13 1960.61 497.75 1961.40 499.35 C1962.12 500.77 1962.84 502.20 1963.65 503.57 C1964.35 504.78 1965.07 505.98 1965.89 507.11 C1966.59 508.07 1967.30 509.03 1968.13 509.88 C1968.83 510.57 1969.54 511.28 1970.38 511.79 C1971.07 512.21 1971.82 512.62 1972.62 512.77 C1973.35 512.92 1974.11 512.76 1974.86 512.75 C1975.60 512.05 1976.34 511.34 1977.08 510.64 C1977.82 509.93 1978.55 509.21 1979.29 508.50 C1980.03 507.80 1980.77 507.09 1981.51 506.39 C1982.25 505.70 1982.98 505.00 1983.73 504.33 C1984.46 503.66 1985.19 503.00 1985.94 502.36 C1986.67 501.74 1987.41 501.12 1988.16 500.53 C1988.89 499.96 1989.62 499.40 1990.38 498.87 C1991.10 498.37 1991.83 497.88 1992.59 497.42 C1993.31 497.00 1994.05 496.59 1994.81 496.23 C1995.53 495.89 1996.27 495.57 1997.03 495.32 C1997.75 495.08 1998.49 494.87 1999.24 494.73 C1999.97 494.59 2000.72 494.50 2001.46 494.47 C2002.20 494.44 2002.94 494.46 2003.67 494.54 C2004.42 494.62 2005.16 494.77 2005.89 494.96 C2006.65 495.16 2007.39 495.42 2008.11 495.72 C2008.87 496.04 2009.61 496.42 2010.32 496.84 C2011.09 497.29 2011.83 497.79 2012.54 498.32 C2013.31 498.89 2014.04 499.52 2014.76 500.16 C2015.53 500.86 2016.26 501.59 2016.97 502.34 C2017.74 503.14 2018.47 503.97 2019.19 504.81 C2019.95 505.70 2020.68 506.61 2021.41 507.53 C2022.16 508.50 2022.90 509.48 2023.62 510.47 C2024.37 511.49 2025.11 512.53 2025.84 513.57 C2026.59 514.64 2027.32 515.72 2028.05 516.80 C2028.80 517.90 2029.54 519.01 2030.27 520.12 C2031.01 521.24 2031.75 522.37 2032.49 523.49 C2033.23 524.62 2033.96 525.74 2034.70 526.86 C2035.44 527.98 2036.18 529.09 2036.92 530.20 C2037.65 531.29 2038.39 532.39 2039.14 533.47 C2039.87 534.52 2040.60 535.57 2041.35 536.61 C2042.08 537.62 2042.81 538.62 2043.57 539.60 C2044.29 540.54 2045.03 541.48 2045.79 542.39 C2046.51 543.26 2047.24 544.11 2048.00 544.94 C2048.72 545.72 2049.45 546.48 2050.22 547.21 C2050.93 547.88 2051.66 548.55 2052.43 549.15 C2053.15 549.72 2053.88 550.26 2054.65 550.74 C2055.36 551.18 2056.10 551.59 2056.87 551.92 C2057.58 552.22 2058.32 552.49 2059.08 552.65 C2059.81 552.81 2060.56 552.82 2061.30 552.90 C2062.05 552.90 2062.81 553.02 2063.55 552.91 C2064.33 552.79 2065.08 552.49 2065.79 552.16 C2066.60 551.79 2067.33 551.27 2068.04 550.74 C2068.85 550.14 2069.58 549.45 2070.29 548.74 C2071.09 547.95 2071.82 547.10 2072.54 546.24 C2073.32 545.30 2074.06 544.32 2074.78 543.33 C2075.56 542.28 2076.30 541.20 2077.03 540.12 C2077.80 538.99 2078.54 537.85 2079.28 536.71 C2080.04 535.54 2080.78 534.37 2081.53 533.21 C2082.28 532.04 2083.02 530.87 2083.77 529.71 C2084.52 528.57 2085.26 527.42 2086.02 526.29 C2086.76 525.18 2087.51 524.08 2088.27 522.99 C2089.01 521.94 2089.75 520.90 2090.52 519.87 C2091.25 518.90 2091.99 517.93 2092.76 516.99 C2093.49 516.11 2094.23 515.24 2095.01 514.41 C2095.73 513.64 2096.48 512.89 2097.26 512.18 C2097.98 511.52 2098.73 510.89 2099.51 510.31 C2100.23 509.77 2100.96 509.22 2101.75 508.78 C2101.84 508.74 2101.92 508.69 2102.00 508.65" stroke="#0000FF"/>
<path d="M210.50 339.80 C211.33 337.20 212.05 334.56 213.00 332.00 C214.41 328.23 216.16 324.58 218.00 321.00 C219.75 317.59 221.85 314.36 223.70 311.00 C225.52 307.69 227.21 304.32 229.00 301.00 C230.71 297.82 232.30 294.57 234.20 291.50 C236.13 288.39 238.09 285.26 240.50 282.50 C242.67 280.01 245.12 277.76 247.70 275.70 C249.70 274.10 251.71 272.45 254.00 271.30 C256.20 270.19 258.54 269.02 261.00 268.90 C263.39 268.78 265.80 269.56 268.00 270.50 C270.32 271.49 272.35 273.10 274.30 274.70 C276.40 276.42 278.28 278.40 280.00 280.50 C281.91 282.82 283.53 285.38 285.00 288.00 C286.60 290.85 287.70 293.95 289.10 296.90 C292.12 303.27 295.37 309.53 298.60 315.80 C301.22 320.89 303.99 325.91 306.60 331.00 C308.08 333.89 309.53 336.80 311.00 339.70 L342.00 339.70 C342.66 340.59 343.36 341.47 343.99 342.38 C344.70 343.41 345.35 344.47 345.98 345.54 C346.68 346.72 347.33 347.93 347.97 349.15 C348.67 350.48 349.32 351.82 349.96 353.18 C350.65 354.64 351.31 356.11 351.95 357.59 C352.64 359.18 353.30 360.78 353.94 362.38 C354.63 364.08 355.29 365.79 355.94 367.50 C356.62 369.30 357.28 371.12 357.93 372.93 C358.60 374.83 359.27 376.74 359.92 378.64 C360.59 380.63 361.25 382.62 361.91 384.61 C362.58 386.67 363.24 388.74 363.90 390.81 C364.57 392.93 365.23 395.07 365.89 397.20 C366.56 399.38 367.22 401.57 367.88 403.76 C368.55 406.00 369.21 408.23 369.87 410.47 C370.54 412.74 371.20 415.02 371.86 417.30 C372.53 419.60 373.19 421.90 373.85 424.21 C374.52 426.53 375.18 428.86 375.84 431.18 C376.51 433.51 377.17 435.85 377.83 438.18 C378.50 440.51 379.16 442.84 379.82 445.18 C380.49 447.50 381.15 449.82 381.81 452.13 C382.47 454.43 383.14 456.73 383.81 459.02 C384.46 461.29 385.12 463.55 385.80 465.81 C386.45 468.02 387.11 470.23 387.79 472.43 C388.44 474.57 389.10 476.71 389.78 478.84 C390.43 480.88 391.08 482.92 391.77 484.95 C392.41 486.87 393.07 488.79 393.76 490.70 C394.40 492.47 395.05 494.24 395.75 495.99 C396.39 497.60 397.03 499.19 397.74 500.77 C398.37 502.17 399.01 503.57 399.73 504.94 C400.35 506.12 400.99 507.30 401.72 508.42 C402.34 509.37 402.96 510.31 403.71 511.15 C404.32 511.83 404.94 512.53 405.70 513.04 C406.32 513.45 406.97 513.86 407.69 514.01 C408.34 514.15 409.02 513.99 409.68 513.99 C410.34 513.29 411.00 512.60 411.65 511.90 C412.31 511.20 412.96 510.50 413.62 509.80 C414.27 509.10 414.93 508.41 415.59 507.72 C416.24 507.03 416.89 506.35 417.55 505.68 C418.20 505.03 418.85 504.38 419.52 503.75 C420.16 503.14 420.82 502.53 421.49 501.94 C422.13 501.38 422.78 500.83 423.45 500.31 C424.09 499.81 424.74 499.33 425.42 498.88 C426.06 498.46 426.71 498.06 427.39 497.70 C428.03 497.37 428.68 497.06 429.36 496.81 C430.00 496.57 430.65 496.37 431.32 496.23 C431.97 496.09 432.63 496.00 433.29 495.97 C433.94 495.94 434.60 495.96 435.26 496.04 C435.92 496.12 436.58 496.27 437.22 496.45 C437.90 496.65 438.55 496.91 439.19 497.21 C439.87 497.53 440.53 497.90 441.16 498.31 C441.84 498.75 442.49 499.25 443.12 499.77 C443.81 500.34 444.46 500.96 445.09 501.59 C445.78 502.28 446.42 503.00 447.06 503.74 C447.74 504.53 448.39 505.35 449.03 506.17 C449.70 507.05 450.35 507.95 450.99 508.86 C451.67 509.81 452.32 510.78 452.96 511.75 C453.63 512.76 454.28 513.78 454.93 514.81 C455.59 515.87 456.24 516.93 456.89 518.00 C457.56 519.09 458.21 520.18 458.86 521.27 C459.52 522.38 460.17 523.49 460.83 524.59 C461.48 525.70 462.14 526.81 462.80 527.92 C463.45 529.02 464.10 530.12 464.76 531.21 C465.41 532.29 466.06 533.36 466.73 534.43 C467.38 535.47 468.03 536.51 468.70 537.53 C469.34 538.52 469.99 539.51 470.66 540.48 C471.30 541.41 471.95 542.33 472.63 543.23 C473.27 544.08 473.92 544.93 474.60 545.74 C475.23 546.51 475.88 547.26 476.56 547.98 C477.20 548.65 477.84 549.30 478.53 549.90 C479.16 550.45 479.81 550.99 480.50 551.46 C481.13 551.89 481.78 552.30 482.47 552.63 C483.10 552.93 483.75 553.19 484.43 553.35 C485.08 553.51 485.74 553.52 486.40 553.60 C487.07 553.60 487.76 553.72 488.42 553.61 C489.12 553.49 489.80 553.19 490.44 552.87 C491.17 552.50 491.82 551.99 492.46 551.47 C493.18 550.88 493.84 550.19 494.47 549.50 C495.19 548.72 495.85 547.88 496.49 547.04 C497.20 546.11 497.86 545.14 498.51 544.17 C499.21 543.13 499.87 542.07 500.53 541.00 C501.22 539.89 501.88 538.76 502.55 537.64 C503.23 536.49 503.89 535.34 504.57 534.19 C505.24 533.04 505.91 531.89 506.59 530.74 C507.25 529.62 507.92 528.49 508.60 527.37 C509.27 526.28 509.94 525.19 510.62 524.12 C511.28 523.08 511.95 522.05 512.64 521.04 C513.30 520.09 513.96 519.13 514.66 518.21 C515.31 517.34 515.97 516.48 516.68 515.66 C517.32 514.90 517.99 514.16 518.70 513.46 C519.34 512.82 520.01 512.20 520.71 511.62 C521.36 511.08 522.03 510.58 522.73 510.11 C523.39 509.68 524.06 509.27 524.75 508.91 C525.41 508.57 526.08 508.26 526.77 507.99 C527.43 507.73 528.11 507.51 528.79 507.32 C529.45 507.13 530.13 506.98 530.81 506.86 C531.48 506.75 532.15 506.66 532.83 506.60 C533.50 506.55 534.17 506.52 534.84 506.51 C535.52 506.50 536.19 506.52 536.86 506.55 C537.54 506.58 538.21 506.63 538.88 506.70 C539.56 506.76 540.23 506.84 540.90 506.92 C541.57 507.01 542.25 507.10 542.92 507.20 C543.59 507.30 544.26 507.40 544.94 507.50 C545.61 507.60 546.28 507.70 546.96 507.79 C547.63 507.88 548.30 507.97 548.97 508.05 C549.65 508.12 550.32 508.19 550.99 508.24 C551.66 508.29 552.34 508.33 553.01 508.35 C553.68 508.36 554.36 508.36 555.03 508.33 C555.70 508.30 556.38 508.25 557.05 508.18 C557.72 508.11 558.40 508.01 559.07 507.90 C559.74 507.78 560.42 507.65 561.09 507.49 C561.76 507.34 562.43 507.17 563.10 506.99 C563.78 506.80 564.45 506.60 565.12 506.38 C565.80 506.16 566.47 505.93 567.14 505.69 C567.82 505.44 568.49 505.18 569.16 504.92 C569.84 504.65 570.51 504.37 571.18 504.08 C571.85 503.80 572.53 503.50 573.20 503.19 C573.87 502.88 574.55 502.57 575.21 502.23 C575.90 501.88 576.57 501.51 577.23 501.12 C577.92 500.71 578.60 500.27 579.25 499.81 C579.95 499.31 580.62 498.79 581.27 498.23 C581.97 497.63 582.65 496.98 583.29 496.32 C584.00 495.58 584.67 494.81 585.31 494.01 C586.02 493.12 586.69 492.18 587.33 491.24 C588.04 490.18 588.70 489.08 589.34 487.98 C590.05 486.77 590.71 485.52 591.36 484.28 C592.07 482.93 592.73 481.55 593.38 480.18 C594.08 478.71 594.74 477.22 595.40 475.73 C596.09 474.15 596.76 472.57 597.42 470.98 C598.11 469.32 598.78 467.65 599.44 465.98 C600.12 464.25 600.79 462.51 601.46 460.77 C602.14 458.99 602.81 457.20 603.47 455.41 C604.15 453.59 604.82 451.76 605.49 449.94 C606.17 448.10 606.84 446.25 607.51 444.41 C608.18 442.56 608.85 440.71 609.53 438.87 C610.20 437.03 610.87 435.19 611.55 433.36 C612.22 431.53 612.89 429.71 613.57 427.89 C614.24 426.07 614.91 424.25 615.59 422.43 C616.26 420.62 616.93 418.80 617.60 416.98 C618.28 415.16 618.95 413.34 619.62 411.52 C620.30 409.69 620.97 407.86 621.64 406.03 C622.32 404.18 622.99 402.33 623.66 400.49 C624.34 398.62 625.01 396.76 625.68 394.89 C626.35 393.02 627.02 391.15 627.70 389.28 C628.37 387.42 629.04 385.55 629.71 383.69 C630.38 381.86 631.05 380.02 631.73 378.18 C632.40 376.39 633.07 374.59 633.75 372.80 C634.42 371.05 635.08 369.31 635.77 367.58 C636.43 365.91 637.10 364.24 637.79 362.58 C638.45 361.00 639.11 359.41 639.81 357.85 C640.46 356.36 641.13 354.88 641.83 353.42 C642.48 352.06 643.14 350.70 643.84 349.36 C644.49 348.13 645.15 346.90 645.86 345.70 C646.51 344.62 647.16 343.54 647.88 342.50 C648.52 341.58 649.23 340.70 649.90 339.80 L677.50 339.80 C678.16 338.92 678.87 338.07 679.49 337.16 C680.21 336.11 680.85 334.99 681.48 333.88 C682.19 332.61 682.84 331.31 683.47 330.01 C684.17 328.56 684.82 327.09 685.46 325.61 C686.16 324.01 686.81 322.39 687.45 320.76 C688.14 319.02 688.80 317.26 689.44 315.50 C690.13 313.64 690.78 311.78 691.43 309.91 C692.11 307.96 692.77 306.00 693.42 304.04 C694.10 302.01 694.76 299.98 695.41 297.95 C696.08 295.88 696.74 293.80 697.40 291.72 C698.07 289.61 698.73 287.50 699.39 285.39 C700.06 283.27 700.72 281.15 701.39 279.04 C702.05 276.93 702.71 274.82 703.38 272.72 C704.04 270.62 704.71 268.52 705.37 266.42 C706.03 264.29 706.70 262.16 707.36 260.02 C708.03 257.81 708.70 255.60 709.35 253.38 C710.03 251.06 710.69 248.72 711.34 246.38 C712.01 243.95 712.67 241.52 713.33 239.08 C713.99 236.62 714.65 234.16 715.32 231.70 C715.98 229.28 716.63 226.86 717.31 224.44 C717.96 222.10 718.62 219.77 719.30 217.44 C719.95 215.21 720.61 212.98 721.29 210.76 C721.94 208.65 722.59 206.54 723.28 204.44 C723.92 202.46 724.58 200.49 725.27 198.53 C725.91 196.70 726.57 194.88 727.26 193.07 C727.90 191.42 728.55 189.76 729.25 188.13 C729.88 186.65 730.53 185.18 731.24 183.74 C731.87 182.46 732.52 181.19 733.23 179.95 C733.86 178.88 734.50 177.81 735.22 176.79 C735.85 175.91 736.49 175.04 737.21 174.24 C737.84 173.54 738.49 172.85 739.20 172.25 C739.83 171.72 740.49 171.21 741.19 170.80 C741.83 170.43 742.52 170.17 743.18 169.86 C743.82 169.94 744.48 169.91 745.09 170.10 C745.78 170.31 746.40 170.72 747.00 171.12 C747.70 171.59 748.30 172.18 748.91 172.77 C749.59 173.44 750.20 174.17 750.81 174.90 C751.48 175.70 752.10 176.54 752.72 177.37 C753.37 178.25 754.00 179.14 754.63 180.03 C755.27 180.93 755.89 181.84 756.54 182.73 C757.16 183.60 757.79 184.48 758.44 185.33 C759.06 186.13 759.68 186.93 760.35 187.68 C760.96 188.35 761.57 189.03 762.26 189.62 C762.86 190.14 763.47 190.66 764.17 191.02 C764.77 191.34 765.44 191.50 766.07 191.73 C766.73 191.41 767.41 191.14 768.03 190.76 C768.73 190.33 769.37 189.80 769.99 189.26 C770.69 188.66 771.33 187.99 771.95 187.30 C772.65 186.54 773.29 185.73 773.91 184.91 C774.60 184.01 775.24 183.07 775.87 182.13 C776.55 181.10 777.20 180.05 777.83 179.00 C778.51 177.86 779.15 176.71 779.79 175.56 C780.46 174.33 781.11 173.09 781.75 171.85 C782.42 170.55 783.07 169.23 783.71 167.92 C784.38 166.55 785.02 165.17 785.67 163.80 C786.33 162.38 786.98 160.96 787.63 159.53 C788.29 158.08 788.94 156.62 789.59 155.16 C790.25 153.69 790.90 152.21 791.55 150.73 C792.20 149.25 792.85 147.76 793.51 146.28 C794.16 144.80 794.81 143.32 795.47 141.84 C796.12 140.38 796.77 138.92 797.43 137.47 C798.07 136.04 798.72 134.61 799.39 133.19 C800.03 131.81 800.68 130.43 801.35 129.05 C801.99 127.73 802.64 126.41 803.30 125.10 C803.94 123.85 804.59 122.60 805.26 121.37 C805.90 120.20 806.55 119.04 807.22 117.90 C807.86 116.83 808.50 115.77 809.18 114.73 C809.81 113.77 810.46 112.82 811.14 111.91 C811.77 111.08 812.41 110.25 813.10 109.47 C813.72 108.77 814.36 108.09 815.06 107.46 C815.68 106.91 816.32 106.37 817.02 105.92 C817.64 105.52 818.29 105.14 818.98 104.88 C819.61 104.65 820.27 104.46 820.94 104.40 C821.59 104.34 822.25 104.47 822.90 104.50 C823.58 104.42 824.25 104.20 824.93 104.25 C825.63 104.30 826.31 104.54 826.95 104.83 C827.69 105.16 828.35 105.68 828.98 106.19 C829.73 106.82 830.37 107.56 831.00 108.31 C831.75 109.20 832.39 110.17 833.03 111.14 C833.76 112.27 834.41 113.45 835.05 114.63 C835.77 115.98 836.43 117.36 837.08 118.75 C837.78 120.26 838.44 121.79 839.10 123.32 C839.79 124.93 840.45 126.55 841.13 128.17 C841.80 129.80 842.47 131.44 843.15 133.08 C843.82 134.67 844.48 136.26 845.18 137.83 C845.83 139.32 846.50 140.81 847.20 142.28 C847.85 143.64 848.52 145.00 849.23 146.33 C849.87 147.54 850.54 148.74 851.25 149.91 C851.89 150.96 852.56 151.99 853.28 153.00 C853.92 153.90 854.59 154.79 855.30 155.64 C855.95 156.40 856.62 157.15 857.33 157.86 C857.97 158.51 858.65 159.13 859.35 159.72 C860.00 160.26 860.68 160.77 861.38 161.24 C862.03 161.69 862.71 162.10 863.40 162.48 C864.06 162.84 864.74 163.17 865.43 163.47 C866.09 163.76 866.77 164.01 867.45 164.25 C868.12 164.48 868.80 164.68 869.48 164.86 C870.15 165.04 870.82 165.20 871.50 165.35 C872.17 165.49 872.85 165.62 873.53 165.74 C874.20 165.87 874.88 165.98 875.55 166.10 C876.23 166.21 876.90 166.32 877.58 166.44 C878.25 166.56 878.93 166.68 879.60 166.82 C880.28 166.96 880.96 167.11 881.63 167.28 C882.31 167.45 882.98 167.66 883.65 167.86 C884.34 167.72 885.02 167.59 885.70 167.45 C886.39 167.31 887.07 167.17 887.75 167.02 C888.44 166.86 889.12 166.70 889.80 166.51 C890.49 166.33 891.18 166.13 891.86 165.92 C892.54 165.70 893.23 165.46 893.91 165.21 C894.59 164.96 895.28 164.69 895.96 164.41 C896.64 164.14 897.33 163.85 898.01 163.55 C898.69 163.26 899.38 162.95 900.06 162.65 C900.74 162.34 901.42 162.03 902.11 161.72 C902.77 161.87 903.45 161.98 904.10 162.19 C904.79 162.41 905.45 162.70 906.10 163.03 C906.79 163.38 907.45 163.80 908.09 164.24 C908.79 164.71 909.45 165.24 910.09 165.79 C910.78 166.38 911.44 167.01 912.08 167.66 C912.78 168.36 913.44 169.10 914.08 169.84 C914.77 170.65 915.43 171.48 916.07 172.32 C916.76 173.22 917.42 174.14 918.07 175.07 C918.76 176.06 919.42 177.06 920.06 178.08 C920.75 179.15 921.41 180.23 922.06 181.32 C922.74 182.47 923.40 183.63 924.05 184.80 C924.74 186.02 925.40 187.25 926.05 188.48 C926.73 189.76 927.39 191.06 928.05 192.36 C928.72 193.70 929.39 195.06 930.04 196.42 C930.72 197.82 931.38 199.23 932.04 200.65 C932.71 202.10 933.37 203.57 934.03 205.03 C934.70 206.54 935.37 208.05 936.03 209.56 C936.70 211.12 937.36 212.67 938.02 214.23 C938.69 215.82 939.36 217.42 940.02 219.02 C940.69 220.65 941.35 222.28 942.01 223.92 C942.68 225.58 943.35 227.25 944.01 228.92 C944.68 230.61 945.34 232.31 946.00 234.00 C946.67 235.72 947.34 237.44 948.00 239.17 C948.67 240.91 949.33 242.65 949.99 244.40 C950.66 246.16 951.32 247.92 951.99 249.68 C952.65 251.46 953.32 253.23 953.98 255.01 C954.65 256.79 955.31 258.57 955.98 260.36 C956.64 262.15 957.31 263.94 957.97 265.73 C958.64 267.52 959.30 269.31 959.97 271.10 C960.63 272.88 961.30 274.67 961.96 276.45 C962.63 278.23 963.29 280.01 963.96 281.78 C964.62 283.55 965.29 285.31 965.95 287.08 C966.62 288.82 967.28 290.57 967.95 292.32 C968.61 294.04 969.27 295.77 969.94 297.49 C970.60 299.19 971.27 300.89 971.94 302.59 C972.60 304.26 973.26 305.92 973.93 307.59 C974.59 309.22 975.26 310.86 975.93 312.49 C976.59 314.08 977.25 315.68 977.92 317.26 C978.58 318.82 979.25 320.37 979.92 321.91 C980.58 323.41 981.24 324.91 981.91 326.41 C982.57 327.86 983.23 329.31 983.91 330.75 C984.56 332.14 985.23 333.53 985.90 334.92 C986.56 336.25 987.23 337.57 987.90 338.90 L1013.40 338.90 C1014.06 339.79 1014.76 340.66 1015.39 341.58 C1016.09 342.61 1016.74 343.67 1017.38 344.74 C1018.07 345.92 1018.73 347.12 1019.36 348.34 C1020.06 349.67 1020.71 351.01 1021.35 352.36 C1022.04 353.82 1022.70 355.30 1023.34 356.78 C1024.03 358.36 1024.68 359.96 1025.33 361.56 C1026.01 363.26 1026.67 364.96 1027.32 366.68 C1028.00 368.48 1028.66 370.29 1029.30 372.10 C1029.98 374.00 1030.64 375.90 1031.29 377.81 C1031.97 379.79 1032.63 381.78 1033.28 383.77 C1033.95 385.83 1034.61 387.90 1035.27 389.96 C1035.94 392.09 1036.60 394.22 1037.26 396.35 C1037.93 398.53 1038.59 400.72 1039.24 402.91 C1039.91 405.14 1040.57 407.38 1041.23 409.61 C1041.90 411.88 1042.56 414.16 1043.22 416.43 C1043.89 418.73 1044.55 421.03 1045.21 423.34 C1045.87 425.66 1046.53 427.98 1047.20 430.30 C1047.86 432.64 1048.52 434.97 1049.18 437.30 C1049.85 439.63 1050.51 441.96 1051.17 444.29 C1051.83 446.61 1052.49 448.92 1053.16 451.24 C1053.82 453.54 1054.48 455.83 1055.15 458.13 C1055.81 460.39 1056.47 462.65 1057.14 464.90 C1057.79 467.11 1058.45 469.32 1059.12 471.52 C1059.78 473.66 1060.43 475.79 1061.11 477.92 C1061.76 479.96 1062.42 482.00 1063.10 484.03 C1063.74 485.95 1064.40 487.87 1065.09 489.77 C1065.73 491.54 1066.38 493.31 1067.07 495.06 C1067.71 496.67 1068.36 498.26 1069.06 499.83 C1069.69 501.24 1070.33 502.64 1071.05 504.00 C1071.67 505.18 1072.31 506.36 1073.04 507.48 C1073.65 508.42 1074.28 509.37 1075.03 510.21 C1075.64 510.89 1076.26 511.59 1077.01 512.09 C1077.63 512.50 1078.28 512.91 1079.00 513.06 C1079.65 513.20 1080.33 513.05 1080.99 513.04 C1081.65 512.35 1082.30 511.65 1082.95 510.96 C1083.61 510.26 1084.26 509.56 1084.92 508.86 C1085.57 508.16 1086.22 507.46 1086.88 506.77 C1087.53 506.09 1088.19 505.41 1088.85 504.74 C1089.50 504.09 1090.15 503.44 1090.81 502.81 C1091.46 502.19 1092.11 501.59 1092.78 501.00 C1093.42 500.44 1094.07 499.89 1094.74 499.37 C1095.38 498.87 1096.03 498.39 1096.71 497.94 C1097.34 497.52 1097.99 497.12 1098.67 496.76 C1099.31 496.43 1099.96 496.12 1100.63 495.87 C1101.27 495.63 1101.93 495.43 1102.60 495.28 C1103.24 495.15 1103.90 495.06 1104.56 495.03 C1105.22 495.00 1105.88 495.02 1106.53 495.10 C1107.19 495.18 1107.85 495.32 1108.49 495.51 C1109.16 495.71 1109.82 495.97 1110.46 496.26 C1111.14 496.58 1111.79 496.96 1112.42 497.37 C1113.11 497.81 1113.76 498.30 1114.38 498.82 C1115.07 499.39 1115.72 500.01 1116.35 500.64 C1117.03 501.33 1117.68 502.05 1118.31 502.78 C1118.99 503.57 1119.64 504.39 1120.28 505.22 C1120.95 506.10 1121.60 507.00 1122.24 507.90 C1122.91 508.85 1123.56 509.82 1124.21 510.79 C1124.87 511.80 1125.52 512.82 1126.17 513.85 C1126.84 514.90 1127.49 515.97 1128.13 517.03 C1128.80 518.12 1129.45 519.21 1130.10 520.30 C1130.76 521.41 1131.41 522.52 1132.06 523.62 C1132.72 524.73 1133.37 525.84 1134.03 526.95 C1134.68 528.04 1135.33 529.14 1135.99 530.24 C1136.64 531.31 1137.29 532.38 1137.96 533.45 C1138.60 534.49 1139.25 535.52 1139.92 536.55 C1140.56 537.54 1141.21 538.52 1141.89 539.49 C1142.53 540.42 1143.17 541.34 1143.85 542.24 C1144.49 543.09 1145.13 543.94 1145.81 544.75 C1146.45 545.52 1147.09 546.27 1147.78 546.99 C1148.41 547.65 1149.05 548.30 1149.74 548.91 C1150.37 549.46 1151.02 550.00 1151.71 550.47 C1152.34 550.90 1152.98 551.31 1153.67 551.63 C1154.30 551.93 1154.96 552.19 1155.64 552.35 C1156.28 552.51 1156.95 552.52 1157.60 552.60 C1158.27 552.60 1158.95 552.72 1159.61 552.60 C1160.31 552.48 1160.98 552.19 1161.62 551.87 C1162.34 551.50 1162.99 550.99 1163.63 550.47 C1164.35 549.88 1165.00 549.19 1165.63 548.50 C1166.35 547.72 1167.00 546.88 1167.64 546.04 C1168.35 545.11 1169.00 544.14 1169.65 543.17 C1170.35 542.13 1171.00 541.07 1171.66 540.00 C1172.35 538.89 1173.01 537.77 1173.67 536.64 C1174.35 535.50 1175.01 534.34 1175.68 533.19 C1176.35 532.05 1177.01 530.90 1177.69 529.75 C1178.35 528.63 1179.02 527.50 1179.70 526.38 C1180.36 525.29 1181.02 524.20 1181.70 523.13 C1182.36 522.10 1183.02 521.07 1183.71 520.06 C1184.36 519.10 1185.03 518.15 1185.72 517.22 C1186.37 516.36 1187.03 515.50 1187.73 514.68 C1188.37 513.92 1189.04 513.18 1189.74 512.48 C1190.38 511.83 1191.05 511.21 1191.75 510.64 C1192.39 510.10 1193.06 509.60 1193.76 509.13 C1194.40 508.70 1195.07 508.29 1195.76 507.93 C1196.42 507.59 1197.09 507.28 1197.77 507.01 C1198.43 506.75 1199.10 506.53 1199.78 506.34 C1200.44 506.15 1201.11 506.00 1201.79 505.88 C1202.45 505.77 1203.13 505.68 1203.80 505.62 C1204.47 505.56 1205.14 505.54 1205.81 505.53 C1206.48 505.52 1207.15 505.54 1207.82 505.57 C1208.49 505.60 1209.16 505.65 1209.82 505.71 C1210.50 505.77 1211.16 505.85 1211.83 505.94 C1212.50 506.02 1213.17 506.12 1213.84 506.21 C1214.51 506.31 1215.18 506.41 1215.85 506.51 C1216.52 506.61 1217.19 506.71 1217.86 506.80 C1218.53 506.90 1219.20 506.99 1219.87 507.06 C1220.54 507.14 1221.21 507.21 1221.88 507.26 C1222.55 507.30 1223.21 507.34 1223.89 507.36 C1224.55 507.37 1225.22 507.37 1225.89 507.34 C1226.56 507.31 1227.23 507.26 1227.90 507.19 C1228.57 507.11 1229.24 507.02 1229.91 506.90 C1230.58 506.79 1231.25 506.65 1231.92 506.50 C1232.59 506.35 1233.26 506.18 1233.93 505.99 C1234.60 505.81 1235.27 505.60 1235.94 505.39 C1236.61 505.17 1237.28 504.94 1237.95 504.70 C1238.62 504.45 1239.29 504.19 1239.95 503.93 C1240.63 503.66 1241.30 503.38 1241.96 503.09 C1242.64 502.80 1243.31 502.51 1243.97 502.20 C1244.65 501.89 1245.32 501.58 1245.98 501.24 C1246.66 500.89 1247.33 500.52 1247.99 500.13 C1248.67 499.72 1249.35 499.28 1250.00 498.82 C1250.69 498.32 1251.36 497.79 1252.01 497.24 C1252.71 496.64 1253.37 495.99 1254.01 495.33 C1254.72 494.59 1255.39 493.82 1256.02 493.02 C1256.74 492.13 1257.40 491.19 1258.03 490.25 C1258.74 489.19 1259.40 488.10 1260.04 486.99 C1260.75 485.78 1261.40 484.54 1262.05 483.29 C1262.75 481.94 1263.41 480.57 1264.06 479.20 C1264.75 477.72 1265.41 476.24 1266.07 474.75 C1266.76 473.18 1267.42 471.59 1268.08 470.00 C1268.76 468.34 1269.43 466.68 1270.08 465.00 C1270.77 463.28 1271.43 461.54 1272.09 459.80 C1272.77 458.02 1273.44 456.23 1274.10 454.44 C1274.78 452.62 1275.44 450.80 1276.11 448.97 C1276.78 447.13 1277.45 445.29 1278.12 443.45 C1278.79 441.60 1279.46 439.75 1280.13 437.91 C1280.79 436.07 1281.46 434.24 1282.14 432.40 C1282.80 430.58 1283.47 428.76 1284.14 426.93 C1284.81 425.12 1285.48 423.30 1286.15 421.49 C1286.82 419.67 1287.49 417.85 1288.16 416.04 C1288.83 414.22 1289.50 412.40 1290.17 410.58 C1290.84 408.75 1291.51 406.92 1292.18 405.09 C1292.85 403.24 1293.52 401.40 1294.19 399.55 C1294.86 397.69 1295.53 395.83 1296.20 393.96 C1296.87 392.09 1297.53 390.22 1298.20 388.35 C1298.87 386.49 1299.54 384.63 1300.21 382.77 C1300.88 380.93 1301.55 379.10 1302.22 377.26 C1302.89 375.47 1303.55 373.67 1304.23 371.88 C1304.89 370.14 1305.56 368.40 1306.24 366.66 C1306.90 364.99 1307.56 363.33 1308.25 361.67 C1308.90 360.08 1309.57 358.50 1310.26 356.94 C1310.91 355.45 1311.57 353.98 1312.27 352.52 C1312.91 351.15 1313.57 349.79 1314.27 348.45 C1314.92 347.22 1315.58 346.00 1316.28 344.80 C1316.92 343.72 1317.58 342.64 1318.29 341.60 C1318.93 340.68 1319.63 339.80 1320.30 338.90 L1348.65 338.90 C1349.31 338.02 1350.02 337.17 1350.64 336.26 C1351.36 335.21 1352.00 334.09 1352.62 332.97 C1353.33 331.71 1353.98 330.40 1354.61 329.10 C1355.31 327.64 1355.96 326.17 1356.60 324.69 C1357.29 323.08 1357.94 321.45 1358.58 319.82 C1359.27 318.07 1359.93 316.31 1360.57 314.54 C1361.25 312.68 1361.91 310.80 1362.56 308.93 C1363.24 306.97 1363.89 305.00 1364.55 303.04 C1365.22 301.00 1365.88 298.97 1366.53 296.93 C1367.20 294.84 1367.86 292.76 1368.52 290.67 C1369.19 288.55 1369.85 286.43 1370.51 284.32 C1371.17 282.19 1371.83 280.06 1372.49 277.94 C1373.15 275.82 1373.82 273.71 1374.48 271.59 C1375.14 269.48 1375.81 267.38 1376.47 265.27 C1377.14 263.13 1377.80 260.99 1378.45 258.85 C1379.13 256.63 1379.80 254.41 1380.44 252.18 C1381.12 249.84 1381.78 247.50 1382.43 245.15 C1383.10 242.71 1383.76 240.26 1384.42 237.82 C1385.08 235.35 1385.74 232.87 1386.40 230.40 C1387.06 227.97 1387.72 225.54 1388.39 223.11 C1389.04 220.76 1389.70 218.42 1390.38 216.08 C1391.03 213.84 1391.68 211.60 1392.36 209.37 C1393.01 207.25 1393.67 205.13 1394.35 203.03 C1394.99 201.04 1395.65 199.06 1396.34 197.09 C1396.98 195.26 1397.63 193.43 1398.32 191.62 C1398.96 189.96 1399.61 188.30 1400.31 186.66 C1400.94 185.18 1401.59 183.70 1402.30 182.26 C1402.93 180.97 1403.57 179.70 1404.29 178.46 C1404.91 177.38 1405.56 176.32 1406.27 175.30 C1406.90 174.42 1407.54 173.55 1408.26 172.74 C1408.88 172.04 1409.53 171.36 1410.25 170.76 C1410.87 170.23 1411.53 169.73 1412.23 169.32 C1412.87 168.95 1413.56 168.70 1414.22 168.39 C1414.86 168.48 1415.51 168.46 1416.13 168.65 C1416.81 168.87 1417.43 169.28 1418.03 169.70 C1418.73 170.18 1419.33 170.78 1419.93 171.37 C1420.62 172.05 1421.23 172.80 1421.84 173.54 C1422.50 174.35 1423.12 175.20 1423.74 176.04 C1424.39 176.93 1425.01 177.83 1425.65 178.74 C1426.28 179.64 1426.91 180.57 1427.55 181.47 C1428.18 182.35 1428.80 183.24 1429.45 184.10 C1430.07 184.91 1430.69 185.72 1431.36 186.48 C1431.96 187.17 1432.57 187.86 1433.26 188.46 C1433.86 188.98 1434.47 189.51 1435.17 189.89 C1435.77 190.21 1436.44 190.38 1437.07 190.62 C1437.72 190.30 1438.41 190.03 1439.03 189.65 C1439.73 189.22 1440.36 188.70 1440.98 188.17 C1441.68 187.56 1442.32 186.89 1442.94 186.21 C1443.63 185.45 1444.27 184.64 1444.90 183.82 C1445.58 182.92 1446.22 181.98 1446.85 181.03 C1447.53 180.01 1448.18 178.96 1448.81 177.90 C1449.48 176.76 1450.13 175.61 1450.76 174.45 C1451.44 173.23 1452.08 171.98 1452.72 170.74 C1453.39 169.43 1454.04 168.12 1454.68 166.80 C1455.34 165.43 1455.99 164.05 1456.63 162.67 C1457.29 161.25 1457.94 159.82 1458.59 158.39 C1459.25 156.93 1459.90 155.47 1460.55 154.01 C1461.20 152.53 1461.85 151.05 1462.50 149.57 C1463.15 148.08 1463.80 146.59 1464.46 145.10 C1465.11 143.62 1465.76 142.13 1466.41 140.65 C1467.06 139.19 1467.71 137.72 1468.37 136.26 C1469.02 134.83 1469.66 133.40 1470.33 131.97 C1470.97 130.59 1471.62 129.20 1472.28 127.83 C1472.92 126.50 1473.57 125.18 1474.24 123.86 C1474.88 122.61 1475.52 121.36 1476.19 120.12 C1476.83 118.95 1477.47 117.79 1478.15 116.65 C1478.78 115.58 1479.43 114.52 1480.11 113.48 C1480.73 112.52 1481.38 111.57 1482.06 110.65 C1482.69 109.82 1483.33 109.00 1484.02 108.22 C1484.64 107.52 1485.28 106.83 1485.98 106.21 C1486.59 105.66 1487.23 105.12 1487.93 104.68 C1488.55 104.28 1489.20 103.91 1489.89 103.65 C1490.52 103.42 1491.18 103.24 1491.84 103.18 C1492.49 103.12 1493.15 103.26 1493.80 103.30 C1494.49 103.22 1495.17 103.01 1495.86 103.07 C1496.58 103.13 1497.27 103.37 1497.92 103.67 C1498.68 104.01 1499.35 104.53 1499.99 105.06 C1500.75 105.69 1501.41 106.45 1502.05 107.21 C1502.81 108.11 1503.47 109.09 1504.11 110.07 C1504.86 111.22 1505.52 112.41 1506.17 113.61 C1506.91 114.97 1507.57 116.37 1508.23 117.77 C1508.95 119.30 1509.62 120.85 1510.30 122.40 C1511.00 124.02 1511.67 125.66 1512.36 127.29 C1513.05 128.95 1513.72 130.61 1514.42 132.26 C1515.10 133.86 1515.77 135.47 1516.48 137.06 C1517.15 138.57 1517.83 140.07 1518.54 141.55 C1519.21 142.93 1519.88 144.31 1520.60 145.65 C1521.26 146.88 1521.94 148.09 1522.67 149.27 C1523.32 150.34 1524.00 151.39 1524.73 152.40 C1525.38 153.32 1526.07 154.22 1526.79 155.08 C1527.45 155.86 1528.13 156.62 1528.85 157.34 C1529.51 158.00 1530.20 158.63 1530.91 159.23 C1531.58 159.78 1532.26 160.30 1532.98 160.78 C1533.64 161.23 1534.33 161.66 1535.04 162.05 C1535.71 162.41 1536.40 162.75 1537.10 163.06 C1537.78 163.35 1538.47 163.62 1539.16 163.86 C1539.84 164.10 1540.53 164.30 1541.22 164.50 C1541.91 164.68 1542.60 164.85 1543.29 165.00 C1543.97 165.16 1544.66 165.29 1545.35 165.42 C1546.03 165.55 1546.72 165.67 1547.41 165.79 C1548.10 165.92 1548.79 166.03 1549.47 166.16 C1550.16 166.29 1550.85 166.42 1551.53 166.56 C1552.22 166.71 1552.91 166.87 1553.60 167.04 C1554.29 167.22 1554.97 167.44 1555.66 167.64 C1556.35 167.51 1557.05 167.39 1557.75 167.25 C1558.44 167.12 1559.14 166.98 1559.83 166.83 C1560.53 166.68 1561.23 166.52 1561.92 166.35 C1562.62 166.17 1563.32 165.97 1564.01 165.76 C1564.71 165.55 1565.41 165.31 1566.10 165.07 C1566.80 164.82 1567.49 164.56 1568.18 164.29 C1568.88 164.01 1569.58 163.73 1570.27 163.44 C1570.97 163.15 1571.67 162.85 1572.36 162.54 C1573.06 162.24 1573.75 161.93 1574.45 161.63 C1575.13 161.79 1575.82 161.90 1576.48 162.12 C1577.18 162.35 1577.86 162.65 1578.51 162.99 C1579.22 163.35 1579.89 163.77 1580.54 164.22 C1581.25 164.70 1581.92 165.24 1582.57 165.80 C1583.28 166.40 1583.95 167.04 1584.61 167.70 C1585.31 168.41 1585.98 169.16 1586.64 169.92 C1587.34 170.73 1588.01 171.57 1588.67 172.43 C1589.37 173.34 1590.04 174.27 1590.70 175.21 C1591.40 176.22 1592.07 177.23 1592.73 178.26 C1593.43 179.35 1594.10 180.44 1594.76 181.55 C1595.46 182.71 1596.13 183.89 1596.79 185.07 C1597.49 186.30 1598.16 187.54 1598.83 188.79 C1599.52 190.09 1600.19 191.40 1600.86 192.71 C1601.55 194.08 1602.22 195.45 1602.89 196.82 C1603.58 198.24 1604.25 199.67 1604.92 201.10 C1605.61 202.57 1606.28 204.05 1606.95 205.53 C1607.64 207.05 1608.31 208.58 1608.98 210.11 C1609.67 211.68 1610.34 213.25 1611.01 214.83 C1611.70 216.43 1612.37 218.05 1613.05 219.66 C1613.73 221.31 1614.41 222.96 1615.08 224.61 C1615.76 226.30 1616.44 227.98 1617.11 229.67 C1617.79 231.38 1618.47 233.09 1619.14 234.81 C1619.82 236.54 1620.50 238.28 1621.17 240.02 C1621.85 241.78 1622.53 243.55 1623.20 245.31 C1623.88 247.09 1624.56 248.87 1625.23 250.65 C1625.91 252.44 1626.59 254.23 1627.27 256.03 C1627.94 257.83 1628.62 259.63 1629.30 261.43 C1629.97 263.24 1630.65 265.05 1631.33 266.86 C1632.01 268.66 1632.68 270.47 1633.36 272.28 C1634.04 274.08 1634.71 275.89 1635.39 277.69 C1636.07 279.49 1636.74 281.28 1637.42 283.08 C1638.10 284.86 1638.77 286.64 1639.45 288.42 C1640.13 290.19 1640.80 291.95 1641.49 293.72 C1642.16 295.46 1642.84 297.20 1643.52 298.94 C1644.19 300.66 1644.87 302.38 1645.55 304.09 C1646.22 305.78 1646.90 307.47 1647.58 309.15 C1648.25 310.80 1648.93 312.45 1649.61 314.10 C1650.28 315.71 1650.96 317.32 1651.64 318.93 C1652.31 320.49 1652.99 322.06 1653.67 323.62 C1654.34 325.14 1655.02 326.66 1655.71 328.17 C1656.37 329.64 1657.05 331.10 1657.74 332.56 C1658.40 333.97 1659.08 335.37 1659.77 336.77 C1660.43 338.12 1661.12 339.46 1661.80 340.80 L1677.40 340.80 C1678.08 341.70 1678.79 342.58 1679.43 343.51 C1680.16 344.54 1680.82 345.62 1681.47 346.70 C1682.18 347.89 1682.85 349.11 1683.50 350.34 C1684.21 351.68 1684.88 353.04 1685.54 354.40 C1686.25 355.88 1686.92 357.37 1687.57 358.86 C1688.28 360.46 1688.95 362.07 1689.61 363.69 C1690.31 365.41 1690.98 367.13 1691.64 368.86 C1692.34 370.68 1693.01 372.51 1693.68 374.34 C1694.37 376.26 1695.05 378.19 1695.71 380.11 C1696.41 382.12 1697.08 384.12 1697.75 386.14 C1698.44 388.22 1699.11 390.30 1699.78 392.39 C1700.47 394.54 1701.15 396.69 1701.82 398.84 C1702.50 401.05 1703.18 403.26 1703.85 405.47 C1704.54 407.72 1705.21 409.98 1705.89 412.24 C1706.57 414.54 1707.25 416.83 1707.92 419.13 C1708.60 421.45 1709.28 423.78 1709.96 426.11 C1710.64 428.45 1711.32 430.80 1711.99 433.15 C1712.67 435.50 1713.35 437.86 1714.03 440.21 C1714.71 442.57 1715.38 444.92 1716.06 447.27 C1716.74 449.62 1717.42 451.96 1718.10 454.30 C1718.77 456.62 1719.45 458.94 1720.13 461.25 C1720.81 463.54 1721.48 465.82 1722.17 468.10 C1722.84 470.33 1723.51 472.56 1724.20 474.79 C1724.87 476.95 1725.54 479.10 1726.24 481.25 C1726.90 483.32 1727.57 485.38 1728.27 487.43 C1728.93 489.36 1729.60 491.30 1730.31 493.23 C1730.96 495.02 1731.63 496.80 1732.34 498.57 C1732.99 500.19 1733.65 501.80 1734.38 503.39 C1735.02 504.81 1735.68 506.23 1736.41 507.60 C1737.05 508.80 1737.70 509.99 1738.44 511.12 C1739.08 512.07 1739.71 513.03 1740.48 513.87 C1741.10 514.56 1741.74 515.27 1742.51 515.78 C1743.14 516.19 1743.81 516.60 1744.55 516.76 C1745.21 516.90 1745.91 516.74 1746.58 516.73 C1747.25 516.03 1747.93 515.33 1748.59 514.63 C1749.27 513.92 1749.93 513.21 1750.61 512.51 C1751.27 511.80 1751.94 511.10 1752.62 510.40 C1753.28 509.71 1753.95 509.03 1754.63 508.35 C1755.29 507.69 1755.96 507.03 1756.64 506.39 C1757.30 505.78 1757.96 505.16 1758.65 504.57 C1759.31 504.01 1759.97 503.45 1760.66 502.92 C1761.31 502.42 1761.98 501.93 1762.67 501.48 C1763.32 501.05 1763.99 500.65 1764.68 500.29 C1765.33 499.95 1766.00 499.64 1766.69 499.38 C1767.35 499.14 1768.02 498.94 1768.70 498.80 C1769.36 498.66 1770.04 498.57 1770.71 498.54 C1771.38 498.51 1772.06 498.53 1772.72 498.61 C1773.40 498.69 1774.08 498.83 1774.73 499.02 C1775.42 499.22 1776.09 499.48 1776.74 499.78 C1777.44 500.10 1778.11 500.49 1778.75 500.90 C1779.46 501.34 1780.12 501.85 1780.77 502.37 C1781.47 502.94 1782.13 503.57 1782.78 504.21 C1783.48 504.90 1784.14 505.63 1784.79 506.37 C1785.48 507.17 1786.15 508.00 1786.80 508.83 C1787.49 509.72 1788.15 510.63 1788.81 511.54 C1789.50 512.50 1790.16 513.48 1790.82 514.46 C1791.50 515.48 1792.17 516.51 1792.83 517.55 C1793.51 518.62 1794.18 519.69 1794.84 520.77 C1795.52 521.87 1796.18 522.97 1796.85 524.07 C1797.52 525.19 1798.19 526.31 1798.86 527.43 C1799.53 528.54 1800.20 529.67 1800.87 530.78 C1801.54 531.89 1802.21 533.00 1802.88 534.11 C1803.55 535.19 1804.21 536.28 1804.89 537.36 C1805.56 538.40 1806.22 539.45 1806.90 540.49 C1807.56 541.49 1808.23 542.48 1808.91 543.46 C1809.57 544.40 1810.23 545.33 1810.93 546.24 C1811.58 547.10 1812.24 547.95 1812.94 548.78 C1813.59 549.55 1814.25 550.31 1814.95 551.03 C1815.59 551.70 1816.25 552.36 1816.96 552.97 C1817.60 553.53 1818.26 554.07 1818.97 554.55 C1819.61 554.98 1820.27 555.39 1820.98 555.72 C1821.63 556.02 1822.30 556.29 1822.99 556.45 C1823.65 556.61 1824.33 556.62 1825.00 556.70 C1825.67 556.70 1826.36 556.82 1827.02 556.71 C1827.73 556.59 1828.41 556.29 1829.05 555.96 C1829.78 555.59 1830.44 555.07 1831.07 554.55 C1831.81 553.95 1832.46 553.26 1833.10 552.56 C1833.82 551.77 1834.48 550.93 1835.12 550.07 C1835.83 549.13 1836.49 548.16 1837.15 547.18 C1837.85 546.13 1838.51 545.05 1839.17 543.98 C1839.86 542.85 1840.53 541.71 1841.20 540.58 C1841.88 539.42 1842.55 538.26 1843.22 537.10 C1843.90 535.94 1844.57 534.78 1845.25 533.62 C1845.92 532.48 1846.59 531.34 1847.27 530.21 C1847.94 529.11 1848.61 528.01 1849.30 526.93 C1849.96 525.88 1850.63 524.85 1851.32 523.82 C1851.98 522.86 1852.65 521.90 1853.35 520.96 C1854.00 520.09 1854.66 519.22 1855.37 518.39 C1856.02 517.62 1856.69 516.87 1857.40 516.16 C1858.04 515.52 1858.71 514.89 1859.42 514.31 C1860.07 513.77 1860.74 513.25 1861.44 512.79 C1862.10 512.35 1862.77 511.94 1863.47 511.57 C1864.13 511.23 1864.80 510.91 1865.49 510.64 C1866.16 510.38 1866.83 510.15 1867.52 509.96 C1868.18 509.78 1868.86 509.62 1869.54 509.50 C1870.21 509.39 1870.89 509.30 1871.57 509.24 C1872.24 509.18 1872.92 509.15 1873.59 509.14 C1874.27 509.13 1874.94 509.15 1875.62 509.18 C1876.29 509.22 1876.97 509.27 1877.64 509.33 C1878.32 509.39 1878.99 509.48 1879.67 509.56 C1880.34 509.64 1881.02 509.74 1881.69 509.84 C1882.37 509.94 1883.04 510.04 1883.72 510.14 C1884.39 510.24 1885.07 510.34 1885.74 510.43 C1886.41 510.53 1887.09 510.62 1887.77 510.69 C1888.44 510.77 1889.11 510.84 1889.79 510.89 C1890.46 510.94 1891.14 510.98 1891.81 510.99 C1892.49 511.01 1893.17 511.01 1893.84 510.98 C1894.52 510.95 1895.19 510.89 1895.86 510.82 C1896.54 510.75 1897.22 510.65 1897.89 510.54 C1898.57 510.42 1899.24 510.28 1899.91 510.13 C1900.59 509.98 1901.27 509.80 1901.94 509.62 C1902.62 509.43 1903.29 509.22 1903.96 509.00 C1904.64 508.78 1905.32 508.55 1905.99 508.30 C1906.67 508.06 1907.34 507.80 1908.01 507.53 C1908.69 507.26 1909.37 506.97 1910.04 506.68 C1910.72 506.39 1911.39 506.10 1912.06 505.79 C1912.74 505.47 1913.42 505.15 1914.09 504.81 C1914.77 504.45 1915.45 504.09 1916.11 503.69 C1916.80 503.27 1917.48 502.84 1918.14 502.37 C1918.83 501.86 1919.51 501.33 1920.16 500.77 C1920.87 500.16 1921.54 499.51 1922.19 498.84 C1922.90 498.10 1923.57 497.31 1924.21 496.51 C1924.93 495.61 1925.59 494.66 1926.23 493.71 C1926.95 492.64 1927.61 491.53 1928.26 490.42 C1928.97 489.19 1929.63 487.94 1930.28 486.68 C1930.99 485.32 1931.65 483.93 1932.31 482.54 C1933.01 481.06 1933.68 479.55 1934.33 478.05 C1935.03 476.46 1935.70 474.86 1936.36 473.25 C1937.05 471.58 1937.72 469.89 1938.38 468.20 C1939.07 466.46 1939.74 464.70 1940.41 462.95 C1941.09 461.15 1941.76 459.34 1942.43 457.53 C1943.11 455.69 1943.79 453.85 1944.46 452.01 C1945.13 450.15 1945.81 448.28 1946.48 446.42 C1947.16 444.56 1947.83 442.69 1948.51 440.83 C1949.18 438.97 1949.85 437.12 1950.53 435.27 C1951.20 433.42 1951.88 431.58 1952.56 429.74 C1953.23 427.91 1953.91 426.07 1954.58 424.24 C1955.25 422.40 1955.93 420.57 1956.60 418.73 C1957.28 416.89 1957.96 415.06 1958.63 413.22 C1959.31 411.37 1959.98 409.52 1960.65 407.67 C1961.33 405.81 1962.01 403.94 1962.68 402.08 C1963.36 400.20 1964.03 398.31 1964.70 396.43 C1965.38 394.54 1966.05 392.65 1966.73 390.76 C1967.40 388.88 1968.07 387.00 1968.75 385.12 C1969.42 383.27 1970.10 381.41 1970.78 379.56 C1971.45 377.74 1972.12 375.93 1972.80 374.12 C1973.47 372.36 1974.14 370.60 1974.83 368.85 C1975.49 367.16 1976.16 365.48 1976.85 363.80 C1977.51 362.20 1978.18 360.61 1978.88 359.02 C1979.53 357.52 1980.20 356.03 1980.90 354.56 C1981.55 353.18 1982.22 351.80 1982.93 350.45 C1983.58 349.21 1984.24 347.97 1984.95 346.76 C1985.60 345.66 1986.26 344.58 1986.98 343.53 C1987.62 342.59 1988.33 341.71 1989.00 340.80 L2004.85 340.80" stroke="#C414FF"/>
<path d="M210.50 339.80 C210.53 339.80 210.57 339.80 210.60 339.80 L215.00 339.80 C216.33 340.70 217.86 341.36 219.00 342.50 C220.74 344.24 221.49 346.75 222.50 349.00 C224.07 352.51 224.95 356.30 226.00 360.00 C227.87 366.57 229.06 373.32 230.50 380.00 C232.53 389.44 234.33 398.93 236.20 408.40 C237.17 413.33 238.13 418.27 239.10 423.20 C241.13 433.47 243.25 443.73 245.30 454.00 C247.35 464.26 248.95 474.62 251.40 484.80 C252.22 488.21 252.97 491.65 254.00 495.00 C254.83 497.70 255.68 500.41 256.80 503.00 C257.69 505.05 258.49 507.18 259.80 509.00 C260.78 510.36 262.07 511.47 263.20 512.70 C264.63 510.30 265.88 507.78 267.50 505.50 C268.87 503.57 270.26 501.60 272.00 500.00 C273.23 498.87 274.48 497.68 276.00 497.00 C277.04 496.54 278.16 496.08 279.30 496.10 C281.70 496.15 283.34 498.77 285.00 500.50 C288.28 503.92 289.42 508.89 291.40 513.20 C292.78 516.20 293.97 519.28 295.30 522.30 C297.52 527.37 299.69 532.47 302.20 537.40 C304.03 540.99 305.32 545.00 308.00 548.00 C309.73 549.94 312.00 551.33 314.00 553.00 C316.83 549.17 320.20 545.68 322.50 541.50 C324.90 537.13 325.72 532.04 327.80 527.50 C328.83 525.26 330.07 523.13 331.10 520.90 C332.14 518.63 332.70 516.13 334.00 514.00 C334.99 512.38 336.01 510.67 337.50 509.50 C338.54 508.68 339.74 508.01 341.00 507.60 C342.34 507.16 343.79 507.10 345.20 507.10 C347.51 507.11 349.71 508.17 352.00 508.50 C354.65 508.88 357.38 509.62 360.00 509.10 C364.01 508.30 367.11 504.90 370.00 502.00 C373.97 498.01 376.39 492.68 378.80 487.60 C382.15 480.52 383.33 472.60 385.60 465.10 C387.87 457.60 390.32 450.16 392.40 442.60 C394.46 435.12 396.13 427.53 398.00 420.00 C399.86 412.50 401.64 404.98 403.60 397.50 C405.57 389.97 407.91 382.55 409.80 375.00 C411.67 367.54 412.64 359.85 414.90 352.50 C415.89 349.27 417.10 346.10 418.20 342.90 L444.30 342.90 C444.97 342.02 445.68 341.16 446.31 340.25 C447.04 339.19 447.69 338.07 448.32 336.95 C449.04 335.68 449.69 334.37 450.33 333.06 C451.04 331.61 451.70 330.13 452.34 328.65 C453.04 327.04 453.71 325.41 454.35 323.77 C455.05 322.02 455.71 320.26 456.37 318.50 C457.06 316.64 457.72 314.76 458.38 312.89 C459.06 310.93 459.73 308.96 460.39 307.00 C461.07 304.97 461.74 302.93 462.40 300.90 C463.08 298.81 463.74 296.73 464.41 294.64 C465.08 292.53 465.75 290.41 466.42 288.30 C467.09 286.17 467.76 284.05 468.43 281.92 C469.10 279.81 469.77 277.70 470.44 275.58 C471.11 273.48 471.79 271.38 472.45 269.27 C473.13 267.13 473.80 264.99 474.46 262.85 C475.15 260.64 475.82 258.42 476.48 256.20 C477.16 253.86 477.83 251.52 478.49 249.18 C479.17 246.74 479.83 244.30 480.50 241.86 C481.17 239.39 481.83 236.92 482.51 234.45 C483.17 232.02 483.84 229.60 484.52 227.17 C485.18 224.83 485.84 222.49 486.53 220.16 C487.19 217.92 487.85 215.68 488.54 213.46 C489.20 211.34 489.86 209.22 490.55 207.12 C491.20 205.13 491.87 203.15 492.56 201.19 C493.21 199.35 493.87 197.53 494.57 195.72 C495.22 194.05 495.88 192.39 496.58 190.75 C497.22 189.27 497.88 187.79 498.60 186.34 C499.23 185.06 499.88 183.78 500.61 182.54 C501.24 181.46 501.89 180.39 502.62 179.37 C503.25 178.48 503.90 177.60 504.63 176.79 C505.26 176.09 505.92 175.40 506.64 174.79 C507.27 174.25 507.94 173.75 508.65 173.33 C509.29 172.95 509.99 172.69 510.66 172.37 C511.30 172.45 511.97 172.41 512.59 172.60 C513.28 172.81 513.91 173.21 514.52 173.61 C515.22 174.07 515.83 174.66 516.44 175.24 C517.13 175.91 517.75 176.64 518.37 177.37 C519.04 178.16 519.67 178.99 520.30 179.82 C520.96 180.69 521.59 181.59 522.22 182.47 C522.87 183.36 523.50 184.27 524.15 185.16 C524.79 186.03 525.41 186.90 526.08 187.74 C526.70 188.54 527.33 189.33 528.01 190.08 C528.62 190.75 529.24 191.43 529.93 192.01 C530.54 192.52 531.16 193.04 531.86 193.40 C532.47 193.72 533.14 193.87 533.79 194.10 C534.45 193.77 535.14 193.49 535.77 193.11 C536.47 192.67 537.12 192.14 537.75 191.60 C538.45 190.99 539.10 190.31 539.73 189.62 C540.43 188.85 541.07 188.04 541.71 187.21 C542.40 186.31 543.05 185.37 543.69 184.42 C544.38 183.39 545.03 182.33 545.67 181.27 C546.35 180.13 547.00 178.97 547.65 177.81 C548.33 176.58 548.98 175.34 549.63 174.09 C550.30 172.78 550.96 171.46 551.61 170.14 C552.28 168.77 552.93 167.39 553.58 166.00 C554.25 164.58 554.91 163.15 555.56 161.72 C556.23 160.26 556.89 158.80 557.54 157.34 C558.21 155.86 558.87 154.37 559.52 152.89 C560.19 151.40 560.84 149.91 561.50 148.42 C562.16 146.93 562.82 145.45 563.48 143.96 C564.14 142.50 564.80 141.03 565.46 139.57 C566.12 138.14 566.77 136.70 567.44 135.28 C568.09 133.89 568.75 132.50 569.42 131.12 C570.07 129.79 570.73 128.47 571.40 127.15 C572.05 125.90 572.70 124.64 573.38 123.40 C574.02 122.23 574.68 121.07 575.36 119.92 C576.00 118.84 576.65 117.78 577.34 116.73 C577.98 115.77 578.63 114.82 579.32 113.90 C579.95 113.06 580.60 112.23 581.30 111.45 C581.93 110.74 582.58 110.05 583.28 109.42 C583.91 108.86 584.55 108.32 585.26 107.86 C585.89 107.46 586.54 107.08 587.24 106.81 C587.88 106.57 588.54 106.38 589.22 106.31 C589.88 106.25 590.54 106.37 591.20 106.40 C591.88 106.31 592.57 106.09 593.25 106.14 C593.96 106.18 594.66 106.41 595.31 106.70 C596.06 107.03 596.73 107.54 597.36 108.05 C598.13 108.67 598.78 109.41 599.42 110.16 C600.17 111.04 600.83 112.00 601.47 112.97 C602.22 114.09 602.88 115.27 603.53 116.46 C604.26 117.80 604.92 119.18 605.58 120.56 C606.30 122.06 606.97 123.59 607.64 125.12 C608.34 126.72 609.01 128.34 609.69 129.95 C610.38 131.59 611.05 133.22 611.75 134.85 C612.42 136.44 613.09 138.03 613.80 139.60 C614.47 141.08 615.14 142.57 615.85 144.03 C616.52 145.39 617.19 146.74 617.91 148.07 C618.56 149.28 619.24 150.47 619.96 151.64 C620.62 152.69 621.29 153.72 622.02 154.72 C622.67 155.62 623.35 156.50 624.07 157.34 C624.73 158.11 625.41 158.85 626.13 159.56 C626.78 160.20 627.47 160.82 628.18 161.40 C628.84 161.94 629.53 162.44 630.24 162.91 C630.90 163.35 631.59 163.76 632.29 164.14 C632.96 164.49 633.65 164.82 634.35 165.11 C635.02 165.39 635.71 165.65 636.40 165.88 C637.08 166.10 637.76 166.29 638.45 166.47 C639.13 166.65 639.82 166.80 640.51 166.94 C641.19 167.09 641.88 167.21 642.56 167.33 C643.25 167.45 643.93 167.55 644.62 167.67 C645.30 167.78 645.99 167.88 646.67 168.00 C647.36 168.12 648.04 168.23 648.73 168.37 C649.41 168.50 650.10 168.64 650.78 168.81 C651.47 168.98 652.15 169.18 652.84 169.37 C653.53 169.23 654.22 169.10 654.92 168.95 C655.61 168.81 656.31 168.66 657.00 168.50 C657.69 168.34 658.39 168.17 659.08 167.98 C659.78 167.79 660.47 167.59 661.16 167.37 C661.86 167.15 662.55 166.90 663.24 166.65 C663.94 166.39 664.63 166.12 665.32 165.84 C666.02 165.56 666.71 165.26 667.40 164.96 C668.10 164.66 668.79 164.35 669.48 164.04 C670.17 163.73 670.87 163.41 671.56 163.10 C672.23 163.25 672.92 163.35 673.58 163.55 C674.28 163.77 674.95 164.06 675.61 164.38 C676.31 164.73 676.98 165.14 677.63 165.58 C678.34 166.05 679.01 166.57 679.66 167.11 C680.36 167.70 681.03 168.33 681.68 168.97 C682.38 169.67 683.05 170.40 683.71 171.14 C684.41 171.94 685.08 172.77 685.73 173.61 C686.43 174.50 687.10 175.42 687.75 176.34 C688.45 177.33 689.12 178.33 689.78 179.34 C690.47 180.41 691.14 181.49 691.80 182.58 C692.49 183.72 693.17 184.88 693.83 186.04 C694.52 187.25 695.19 188.48 695.85 189.71 C696.54 190.99 697.21 192.28 697.87 193.58 C698.56 194.92 699.23 196.27 699.90 197.62 C700.58 199.02 701.26 200.43 701.92 201.84 C702.61 203.30 703.28 204.75 703.95 206.22 C704.63 207.72 705.30 209.23 705.97 210.74 C706.65 212.29 707.33 213.84 708.00 215.39 C708.68 216.98 709.35 218.57 710.02 220.17 C710.70 221.80 711.37 223.43 712.04 225.06 C712.72 226.72 713.40 228.38 714.07 230.05 C714.75 231.74 715.42 233.43 716.09 235.12 C716.77 236.84 717.45 238.56 718.12 240.28 C718.79 242.02 719.47 243.76 720.14 245.50 C720.82 247.25 721.49 249.01 722.16 250.77 C722.84 252.54 723.52 254.31 724.19 256.09 C724.87 257.87 725.54 259.65 726.21 261.43 C726.89 263.21 727.56 265.00 728.24 266.79 C728.91 268.57 729.59 270.36 730.26 272.14 C730.94 273.93 731.61 275.71 732.29 277.49 C732.96 279.26 733.63 281.04 734.31 282.81 C734.98 284.57 735.66 286.33 736.33 288.09 C737.01 289.84 737.68 291.58 738.36 293.32 C739.03 295.05 739.70 296.77 740.38 298.49 C741.05 300.18 741.73 301.88 742.41 303.57 C743.08 305.24 743.75 306.90 744.43 308.57 C745.10 310.20 745.77 311.83 746.45 313.45 C747.12 315.04 747.80 316.63 748.48 318.22 C749.15 319.77 749.82 321.31 750.50 322.85 C751.17 324.35 751.84 325.85 752.53 327.34 C753.19 328.79 753.87 330.23 754.55 331.67 C755.22 333.06 755.89 334.45 756.58 335.83 C757.24 337.16 757.93 338.48 758.60 339.80 L785.20 339.80 C785.87 340.69 786.57 341.57 787.20 342.48 C787.91 343.51 788.57 344.57 789.21 345.64 C789.91 346.82 790.57 348.03 791.21 349.25 C791.91 350.58 792.57 351.92 793.22 353.28 C793.91 354.74 794.58 356.21 795.22 357.70 C795.91 359.28 796.58 360.88 797.23 362.48 C797.92 364.18 798.58 365.89 799.23 367.60 C799.92 369.41 800.58 371.22 801.24 373.03 C801.92 374.93 802.58 376.84 803.24 378.75 C803.92 380.73 804.59 382.72 805.25 384.72 C805.92 386.78 806.59 388.84 807.25 390.91 C807.93 393.04 808.59 395.17 809.25 397.30 C809.93 399.49 810.60 401.68 811.26 403.87 C811.93 406.10 812.60 408.34 813.26 410.58 C813.94 412.85 814.60 415.13 815.27 417.40 C815.94 419.71 816.61 422.01 817.27 424.32 C817.94 426.64 818.61 428.97 819.28 431.29 C819.95 433.62 820.61 435.96 821.28 438.29 C821.95 440.62 822.62 442.96 823.29 445.29 C823.95 447.61 824.62 449.93 825.29 452.25 C825.96 454.54 826.62 456.84 827.29 459.14 C827.96 461.40 828.62 463.66 829.30 465.92 C829.96 468.13 830.62 470.34 831.30 472.55 C831.96 474.69 832.63 476.82 833.31 478.95 C833.96 480.99 834.62 483.03 835.31 485.07 C835.96 486.99 836.62 488.91 837.32 490.81 C837.96 492.59 838.62 494.36 839.32 496.11 C839.96 497.71 840.62 499.31 841.33 500.88 C841.96 502.29 842.61 503.69 843.33 505.05 C843.96 506.24 844.60 507.42 845.34 508.54 C845.96 509.48 846.58 510.43 847.34 511.27 C847.95 511.95 848.58 512.65 849.34 513.16 C849.96 513.57 850.62 513.97 851.35 514.13 C852.00 514.26 852.68 514.11 853.35 514.10 C854.01 513.41 854.68 512.72 855.33 512.02 C856.00 511.32 856.65 510.62 857.31 509.91 C857.97 509.22 858.63 508.52 859.30 507.83 C859.95 507.15 860.61 506.47 861.28 505.80 C861.93 505.14 862.58 504.49 863.26 503.86 C863.91 503.25 864.56 502.64 865.24 502.05 C865.88 501.49 866.54 500.94 867.22 500.42 C867.86 499.92 868.52 499.44 869.20 498.99 C869.84 498.57 870.50 498.16 871.18 497.81 C871.82 497.47 872.48 497.16 873.16 496.91 C873.81 496.67 874.47 496.47 875.14 496.33 C875.79 496.19 876.46 496.10 877.12 496.07 C877.78 496.04 878.45 496.07 879.10 496.15 C879.77 496.23 880.44 496.37 881.08 496.56 C881.76 496.75 882.42 497.01 883.06 497.31 C883.75 497.63 884.41 498.01 885.04 498.41 C885.74 498.86 886.39 499.35 887.02 499.87 C887.72 500.44 888.37 501.06 889.01 501.69 C889.70 502.38 890.35 503.10 890.99 503.84 C891.67 504.63 892.33 505.45 892.97 506.27 C893.65 507.15 894.30 508.05 894.95 508.96 C895.63 509.91 896.28 510.88 896.93 511.85 C897.60 512.86 898.26 513.89 898.91 514.91 C899.58 515.97 900.24 517.03 900.89 518.10 C901.56 519.19 902.21 520.28 902.87 521.37 C903.53 522.48 904.19 523.59 904.85 524.70 C905.51 525.80 906.17 526.91 906.83 528.02 C907.49 529.12 908.15 530.22 908.81 531.31 C909.47 532.39 910.12 533.47 910.79 534.53 C911.44 535.57 912.10 536.61 912.77 537.64 C913.42 538.63 914.08 539.61 914.75 540.58 C915.40 541.51 916.05 542.43 916.74 543.33 C917.38 544.18 918.03 545.03 918.72 545.85 C919.36 546.61 920.01 547.37 920.70 548.08 C921.33 548.75 921.98 549.40 922.68 550.00 C923.31 550.56 923.96 551.09 924.66 551.57 C925.29 552.00 925.94 552.41 926.64 552.73 C927.28 553.03 927.94 553.29 928.62 553.45 C929.27 553.61 929.94 553.62 930.60 553.70 C931.27 553.70 931.95 553.82 932.62 553.70 C933.32 553.58 934.00 553.29 934.63 552.97 C935.36 552.60 936.02 552.09 936.65 551.57 C937.38 550.97 938.03 550.29 938.67 549.60 C939.39 548.82 940.04 547.98 940.69 547.13 C941.40 546.20 942.05 545.24 942.70 544.26 C943.40 543.22 944.06 542.16 944.72 541.09 C945.41 539.98 946.07 538.85 946.74 537.73 C947.42 536.58 948.08 535.43 948.76 534.28 C949.43 533.13 950.10 531.98 950.77 530.83 C951.44 529.70 952.11 528.58 952.79 527.46 C953.45 526.37 954.12 525.28 954.81 524.20 C955.47 523.17 956.13 522.14 956.82 521.13 C957.48 520.17 958.14 519.22 958.84 518.29 C959.49 517.42 960.16 516.56 960.86 515.74 C961.51 514.98 962.17 514.24 962.88 513.54 C963.52 512.90 964.19 512.28 964.89 511.70 C965.54 511.16 966.21 510.66 966.91 510.19 C967.56 509.76 968.23 509.35 968.93 508.99 C969.58 508.65 970.26 508.34 970.95 508.07 C971.61 507.81 972.28 507.58 972.96 507.39 C973.63 507.21 974.30 507.06 974.98 506.94 C975.65 506.82 976.32 506.74 977.00 506.68 C977.67 506.62 978.34 506.59 979.01 506.58 C979.69 506.57 980.36 506.59 981.03 506.62 C981.71 506.65 982.38 506.71 983.05 506.77 C983.72 506.83 984.40 506.91 985.07 506.99 C985.74 507.08 986.41 507.18 987.08 507.27 C987.76 507.37 988.43 507.47 989.10 507.57 C989.77 507.67 990.45 507.77 991.12 507.86 C991.79 507.95 992.46 508.04 993.14 508.12 C993.81 508.19 994.48 508.26 995.15 508.31 C995.82 508.36 996.50 508.40 997.17 508.42 C997.84 508.43 998.52 508.43 999.19 508.40 C999.86 508.37 1000.53 508.32 1001.20 508.24 C1001.88 508.17 1002.55 508.08 1003.22 507.96 C1003.90 507.85 1004.57 507.71 1005.24 507.56 C1005.92 507.41 1006.59 507.24 1007.26 507.05 C1007.93 506.86 1008.61 506.66 1009.27 506.44 C1009.95 506.23 1010.62 505.99 1011.29 505.75 C1011.97 505.51 1012.64 505.25 1013.31 504.98 C1013.98 504.71 1014.66 504.43 1015.33 504.15 C1016.00 503.86 1016.68 503.56 1017.34 503.26 C1018.02 502.94 1018.70 502.63 1019.36 502.29 C1020.04 501.94 1020.72 501.57 1021.38 501.18 C1022.07 500.77 1022.74 500.33 1023.40 499.87 C1024.09 499.37 1024.76 498.84 1025.41 498.29 C1026.12 497.68 1026.79 497.04 1027.43 496.37 C1028.14 495.64 1028.81 494.86 1029.45 494.06 C1030.16 493.17 1030.82 492.24 1031.46 491.29 C1032.18 490.23 1032.84 489.14 1033.48 488.03 C1034.19 486.82 1034.85 485.58 1035.50 484.33 C1036.20 482.98 1036.86 481.60 1037.52 480.23 C1038.21 478.75 1038.88 477.27 1039.53 475.78 C1040.23 474.20 1040.89 472.62 1041.55 471.03 C1042.24 469.36 1042.91 467.70 1043.57 466.02 C1044.25 464.29 1044.92 462.55 1045.59 460.81 C1046.27 459.03 1046.94 457.24 1047.60 455.45 C1048.28 453.63 1048.95 451.80 1049.62 449.98 C1050.30 448.13 1050.97 446.29 1051.64 444.44 C1052.31 442.60 1052.98 440.75 1053.65 438.90 C1054.32 437.06 1055.00 435.23 1055.67 433.39 C1056.34 431.57 1057.02 429.74 1057.69 427.92 C1058.36 426.10 1059.03 424.28 1059.71 422.46 C1060.38 420.65 1061.05 418.83 1061.72 417.01 C1062.40 415.19 1063.07 413.37 1063.74 411.55 C1064.41 409.71 1065.09 407.88 1065.76 406.05 C1066.43 404.20 1067.11 402.36 1067.78 400.51 C1068.45 398.64 1069.12 396.78 1069.79 394.91 C1070.47 393.04 1071.14 391.17 1071.81 389.30 C1072.48 387.44 1073.15 385.57 1073.83 383.71 C1074.50 381.87 1075.17 380.03 1075.84 378.20 C1076.51 376.40 1077.18 374.60 1077.86 372.81 C1078.53 371.07 1079.19 369.33 1079.88 367.59 C1080.54 365.92 1081.21 364.25 1081.90 362.59 C1082.55 361.00 1083.22 359.42 1083.91 357.85 C1084.57 356.37 1085.23 354.89 1085.93 353.43 C1086.58 352.06 1087.25 350.70 1087.95 349.36 C1088.60 348.13 1089.26 346.90 1089.97 345.71 C1090.61 344.62 1091.27 343.54 1091.98 342.50 C1092.62 341.58 1093.33 340.70 1094.00 339.80 L1120.90 339.80 C1121.56 338.92 1122.27 338.07 1122.89 337.16 C1123.62 336.11 1124.26 335.00 1124.89 333.88 C1125.60 332.61 1126.25 331.31 1126.88 330.01 C1127.58 328.56 1128.23 327.09 1128.87 325.61 C1129.57 324.01 1130.22 322.38 1130.87 320.76 C1131.55 319.01 1132.21 317.26 1132.86 315.50 C1133.54 313.64 1134.20 311.78 1134.85 309.91 C1135.53 307.95 1136.19 306.00 1136.85 304.04 C1137.52 302.01 1138.18 299.98 1138.84 297.95 C1139.51 295.87 1140.17 293.79 1140.83 291.71 C1141.50 289.61 1142.16 287.50 1142.82 285.39 C1143.49 283.27 1144.15 281.15 1144.82 279.03 C1145.48 276.92 1146.15 274.82 1146.81 272.71 C1147.47 270.61 1148.14 268.51 1148.80 266.41 C1149.47 264.28 1150.14 262.15 1150.80 260.02 C1151.47 257.81 1152.14 255.60 1152.79 253.38 C1153.47 251.05 1154.13 248.71 1154.78 246.38 C1155.46 243.95 1156.12 241.51 1156.78 239.07 C1157.44 236.61 1158.10 234.15 1158.77 231.69 C1159.43 229.27 1160.09 226.85 1160.76 224.43 C1161.42 222.09 1162.08 219.76 1162.76 217.43 C1163.41 215.20 1164.07 212.97 1164.75 210.75 C1165.40 208.64 1166.06 206.53 1166.74 204.43 C1167.39 202.45 1168.05 200.48 1168.74 198.51 C1169.38 196.69 1170.03 194.87 1170.73 193.06 C1171.37 191.40 1172.02 189.75 1172.72 188.12 C1173.36 186.64 1174.01 185.17 1174.72 183.73 C1175.34 182.45 1175.99 181.17 1176.71 179.94 C1177.33 178.86 1177.98 177.80 1178.70 176.78 C1179.33 175.90 1179.97 175.03 1180.69 174.22 C1181.32 173.52 1181.97 172.84 1182.69 172.23 C1183.32 171.70 1183.97 171.20 1184.68 170.79 C1185.32 170.42 1186.01 170.16 1186.67 169.85 C1187.31 169.93 1187.97 169.90 1188.58 170.09 C1189.27 170.30 1189.90 170.71 1190.49 171.11 C1191.19 171.58 1191.80 172.17 1192.40 172.76 C1193.09 173.43 1193.70 174.16 1194.31 174.90 C1194.98 175.69 1195.60 176.53 1196.22 177.37 C1196.88 178.24 1197.50 179.14 1198.13 180.03 C1198.77 180.92 1199.40 181.83 1200.04 182.73 C1200.67 183.60 1201.30 184.48 1201.95 185.33 C1202.57 186.12 1203.19 186.92 1203.87 187.67 C1204.47 188.35 1205.08 189.03 1205.78 189.62 C1206.37 190.13 1206.99 190.65 1207.69 191.02 C1208.29 191.34 1208.96 191.50 1209.60 191.73 C1210.25 191.41 1210.93 191.14 1211.56 190.75 C1212.26 190.32 1212.90 189.80 1213.52 189.26 C1214.22 188.66 1214.86 187.99 1215.48 187.30 C1216.18 186.54 1216.82 185.73 1217.44 184.91 C1218.13 184.01 1218.78 183.07 1219.41 182.13 C1220.09 181.10 1220.74 180.05 1221.37 179.00 C1222.05 177.86 1222.69 176.71 1223.33 175.56 C1224.01 174.33 1224.65 173.09 1225.29 171.85 C1225.96 170.55 1226.61 169.23 1227.26 167.92 C1227.92 166.55 1228.57 165.17 1229.22 163.80 C1229.88 162.38 1230.53 160.96 1231.18 159.53 C1231.84 158.08 1232.49 156.62 1233.14 155.16 C1233.80 153.69 1234.45 152.21 1235.10 150.73 C1235.76 149.25 1236.41 147.76 1237.07 146.28 C1237.72 144.80 1238.37 143.32 1239.03 141.84 C1239.68 140.38 1240.33 138.92 1240.99 137.47 C1241.64 136.04 1242.29 134.61 1242.95 133.19 C1243.60 131.81 1244.25 130.42 1244.92 129.05 C1245.56 127.73 1246.21 126.41 1246.88 125.10 C1247.52 123.84 1248.17 122.60 1248.84 121.36 C1249.48 120.20 1250.12 119.04 1250.80 117.89 C1251.44 116.83 1252.08 115.76 1252.76 114.73 C1253.39 113.77 1254.04 112.82 1254.73 111.91 C1255.35 111.07 1255.99 110.25 1256.69 109.47 C1257.31 108.77 1257.95 108.08 1258.65 107.46 C1259.27 106.91 1259.91 106.37 1260.61 105.92 C1261.24 105.52 1261.88 105.14 1262.58 104.88 C1263.21 104.65 1263.87 104.46 1264.54 104.40 C1265.19 104.34 1265.85 104.47 1266.50 104.50 C1267.17 104.42 1267.84 104.20 1268.52 104.25 C1269.22 104.30 1269.91 104.54 1270.54 104.83 C1271.29 105.16 1271.94 105.68 1272.57 106.20 C1273.32 106.82 1273.96 107.57 1274.59 108.31 C1275.33 109.20 1275.98 110.17 1276.61 111.14 C1277.34 112.27 1278.00 113.45 1278.63 114.64 C1279.35 115.99 1280.01 117.37 1280.65 118.75 C1281.36 120.26 1282.02 121.80 1282.68 123.33 C1283.37 124.94 1284.03 126.56 1284.70 128.18 C1285.38 129.81 1286.04 131.46 1286.72 133.09 C1287.39 134.68 1288.05 136.27 1288.74 137.85 C1289.40 139.34 1290.06 140.82 1290.76 142.29 C1291.41 143.65 1292.08 145.01 1292.79 146.34 C1293.43 147.55 1294.09 148.76 1294.81 149.93 C1295.45 150.98 1296.12 152.01 1296.83 153.02 C1297.47 153.92 1298.14 154.81 1298.85 155.66 C1299.50 156.42 1300.17 157.17 1300.87 157.88 C1301.52 158.53 1302.19 159.16 1302.90 159.74 C1303.55 160.28 1304.22 160.79 1304.92 161.27 C1305.57 161.71 1306.25 162.13 1306.94 162.51 C1307.60 162.87 1308.27 163.20 1308.96 163.49 C1309.62 163.78 1310.30 164.04 1310.98 164.28 C1311.65 164.50 1312.33 164.70 1313.01 164.89 C1313.68 165.07 1314.35 165.23 1315.03 165.37 C1315.70 165.52 1316.38 165.65 1317.05 165.77 C1317.72 165.90 1318.40 166.01 1319.07 166.12 C1319.75 166.24 1320.42 166.35 1321.09 166.47 C1321.77 166.59 1322.45 166.72 1323.12 166.85 C1323.79 167.00 1324.47 167.14 1325.14 167.31 C1325.82 167.49 1326.49 167.70 1327.16 167.89 C1327.84 167.75 1328.53 167.62 1329.21 167.48 C1329.89 167.34 1330.58 167.20 1331.26 167.05 C1331.94 166.89 1332.62 166.73 1333.30 166.55 C1333.99 166.36 1334.67 166.17 1335.35 165.95 C1336.04 165.73 1336.72 165.49 1337.40 165.24 C1338.09 164.99 1338.77 164.72 1339.45 164.45 C1340.13 164.17 1340.81 163.88 1341.49 163.59 C1342.18 163.29 1342.86 162.99 1343.54 162.68 C1344.22 162.38 1344.91 162.06 1345.59 161.76 C1346.25 161.91 1346.93 162.01 1347.58 162.22 C1348.27 162.45 1348.93 162.74 1349.57 163.07 C1350.26 163.42 1350.92 163.84 1351.56 164.28 C1352.26 164.75 1352.92 165.28 1353.56 165.83 C1354.25 166.42 1354.91 167.05 1355.55 167.70 C1356.24 168.40 1356.90 169.14 1357.54 169.89 C1358.23 170.69 1358.89 171.52 1359.53 172.36 C1360.22 173.26 1360.88 174.18 1361.53 175.11 C1362.21 176.10 1362.87 177.11 1363.52 178.12 C1364.20 179.19 1364.86 180.28 1365.51 181.37 C1366.19 182.52 1366.85 183.68 1367.50 184.85 C1368.18 186.07 1368.84 187.29 1369.49 188.53 C1370.17 189.82 1370.83 191.11 1371.49 192.41 C1372.16 193.76 1372.82 195.11 1373.48 196.47 C1374.15 197.88 1374.82 199.29 1375.47 200.70 C1376.14 202.16 1376.81 203.62 1377.46 205.09 C1378.14 206.60 1378.80 208.11 1379.45 209.62 C1380.13 211.17 1380.79 212.73 1381.45 214.29 C1382.12 215.88 1382.78 217.48 1383.44 219.08 C1384.11 220.71 1384.77 222.34 1385.43 223.98 C1386.10 225.64 1386.76 227.31 1387.42 228.98 C1388.09 230.67 1388.76 232.37 1389.42 234.07 C1390.08 235.79 1390.75 237.51 1391.41 239.23 C1392.07 240.98 1392.74 242.72 1393.40 244.47 C1394.07 246.23 1394.73 247.99 1395.39 249.75 C1396.06 251.53 1396.72 253.30 1397.38 255.08 C1398.05 256.86 1398.71 258.65 1399.38 260.43 C1400.04 262.22 1400.70 264.01 1401.37 265.80 C1402.03 267.59 1402.70 269.38 1403.36 271.17 C1404.02 272.96 1404.69 274.75 1405.35 276.53 C1406.01 278.31 1406.68 280.09 1407.34 281.86 C1408.01 283.63 1408.67 285.39 1409.34 287.16 C1410.00 288.91 1410.66 290.65 1411.33 292.40 C1411.99 294.13 1412.65 295.85 1413.32 297.58 C1413.98 299.28 1414.64 300.98 1415.31 302.67 C1415.97 304.34 1416.63 306.01 1417.31 307.68 C1417.96 309.31 1418.63 310.95 1419.30 312.58 C1419.95 314.17 1420.62 315.77 1421.29 317.36 C1421.95 318.91 1422.61 320.46 1423.28 322.00 C1423.94 323.51 1424.60 325.01 1425.27 326.51 C1425.93 327.96 1426.59 329.41 1427.27 330.85 C1427.92 332.24 1428.58 333.63 1429.26 335.02 C1429.91 336.35 1430.59 337.67 1431.25 339.00 L1456.75 339.00 C1457.41 339.89 1458.11 340.77 1458.74 341.68 C1459.45 342.71 1460.10 343.77 1460.73 344.84 C1461.43 346.02 1462.09 347.23 1462.72 348.45 C1463.42 349.78 1464.08 351.12 1464.72 352.48 C1465.41 353.94 1466.06 355.41 1466.71 356.90 C1467.39 358.48 1468.05 360.08 1468.70 361.68 C1469.38 363.38 1470.04 365.09 1470.69 366.80 C1471.37 368.61 1472.03 370.42 1472.68 372.23 C1473.36 374.13 1474.02 376.04 1474.67 377.95 C1475.35 379.93 1476.01 381.92 1476.66 383.92 C1477.34 385.98 1478.00 388.04 1478.66 390.11 C1479.33 392.24 1479.99 394.37 1480.65 396.50 C1481.32 398.69 1481.98 400.88 1482.64 403.07 C1483.31 405.30 1483.97 407.54 1484.63 409.78 C1485.30 412.05 1485.96 414.33 1486.62 416.60 C1487.29 418.91 1487.95 421.21 1488.61 423.52 C1489.28 425.84 1489.94 428.17 1490.60 430.49 C1491.27 432.82 1491.93 435.16 1492.60 437.49 C1493.26 439.82 1493.92 442.16 1494.59 444.49 C1495.25 446.81 1495.91 449.13 1496.58 451.45 C1497.24 453.74 1497.90 456.04 1498.57 458.34 C1499.23 460.60 1499.89 462.86 1500.56 465.12 C1501.22 467.33 1501.88 469.54 1502.55 471.75 C1503.21 473.89 1503.87 476.02 1504.54 478.15 C1505.19 480.19 1505.85 482.23 1506.54 484.27 C1507.18 486.19 1507.84 488.11 1508.53 490.01 C1509.17 491.79 1509.82 493.56 1510.52 495.31 C1511.15 496.91 1511.80 498.51 1512.51 500.08 C1513.14 501.49 1513.78 502.89 1514.50 504.25 C1515.12 505.44 1515.76 506.62 1516.49 507.74 C1517.11 508.68 1517.73 509.63 1518.48 510.47 C1519.09 511.15 1519.71 511.85 1520.48 512.36 C1521.09 512.77 1521.74 513.17 1522.47 513.33 C1523.12 513.46 1523.79 513.31 1524.46 513.30 C1525.11 512.61 1525.77 511.92 1526.43 511.22 C1527.08 510.52 1527.74 509.82 1528.39 509.11 C1529.05 508.42 1529.70 507.72 1530.36 507.03 C1531.01 506.35 1531.66 505.67 1532.33 505.00 C1532.98 504.34 1533.63 503.69 1534.30 503.06 C1534.94 502.45 1535.59 501.84 1536.26 501.25 C1536.91 500.69 1537.56 500.14 1538.23 499.62 C1538.87 499.12 1539.52 498.64 1540.20 498.19 C1540.84 497.77 1541.49 497.36 1542.17 497.01 C1542.81 496.67 1543.46 496.36 1544.14 496.11 C1544.78 495.87 1545.43 495.67 1546.10 495.53 C1546.75 495.39 1547.41 495.30 1548.07 495.27 C1548.73 495.24 1549.39 495.27 1550.04 495.35 C1550.70 495.43 1551.36 495.57 1552.01 495.76 C1552.68 495.95 1553.34 496.21 1553.97 496.51 C1554.66 496.83 1555.31 497.21 1555.94 497.61 C1556.63 498.06 1557.28 498.55 1557.91 499.07 C1558.60 499.64 1559.25 500.26 1559.88 500.89 C1560.56 501.58 1561.21 502.30 1561.85 503.04 C1562.53 503.83 1563.18 504.65 1563.81 505.47 C1564.49 506.35 1565.14 507.25 1565.78 508.16 C1566.45 509.11 1567.10 510.08 1567.75 511.05 C1568.42 512.06 1569.07 513.09 1569.72 514.11 C1570.38 515.17 1571.03 516.23 1571.68 517.30 C1572.35 518.39 1573.00 519.48 1573.65 520.57 C1574.31 521.68 1574.96 522.79 1575.62 523.90 C1576.28 525.00 1576.93 526.11 1577.59 527.22 C1578.24 528.32 1578.89 529.42 1579.55 530.51 C1580.21 531.59 1580.86 532.67 1581.52 533.73 C1582.17 534.77 1582.82 535.81 1583.49 536.84 C1584.13 537.82 1584.79 538.81 1585.46 539.78 C1586.10 540.71 1586.75 541.63 1587.43 542.53 C1588.06 543.38 1588.71 544.23 1589.39 545.05 C1590.03 545.81 1590.68 546.56 1591.36 547.28 C1591.99 547.95 1592.64 548.60 1593.33 549.20 C1593.96 549.76 1594.61 550.29 1595.30 550.77 C1595.93 551.20 1596.57 551.61 1597.26 551.93 C1597.90 552.23 1598.55 552.49 1599.23 552.65 C1599.88 552.81 1600.54 552.82 1601.20 552.90 C1601.87 552.90 1602.54 553.02 1603.20 552.90 C1603.90 552.78 1604.57 552.49 1605.20 552.17 C1605.93 551.80 1606.57 551.29 1607.20 550.77 C1607.93 550.17 1608.57 549.49 1609.20 548.80 C1609.92 548.02 1610.57 547.18 1611.20 546.33 C1611.91 545.40 1612.56 544.44 1613.20 543.46 C1613.90 542.42 1614.55 541.36 1615.20 540.29 C1615.89 539.18 1616.54 538.05 1617.20 536.93 C1617.88 535.78 1618.54 534.63 1619.21 533.48 C1619.87 532.33 1620.53 531.18 1621.21 530.03 C1621.87 528.90 1622.53 527.78 1623.21 526.66 C1623.86 525.57 1624.53 524.48 1625.21 523.40 C1625.86 522.37 1626.52 521.34 1627.21 520.33 C1627.86 519.37 1628.52 518.42 1629.21 517.49 C1629.85 516.62 1630.51 515.76 1631.21 514.94 C1631.85 514.18 1632.51 513.44 1633.21 512.74 C1633.85 512.10 1634.51 511.48 1635.21 510.90 C1635.85 510.36 1636.52 509.86 1637.21 509.39 C1637.86 508.96 1638.52 508.55 1639.21 508.19 C1639.86 507.85 1640.53 507.54 1641.21 507.27 C1641.87 507.01 1642.54 506.78 1643.21 506.59 C1643.87 506.41 1644.54 506.26 1645.21 506.14 C1645.88 506.02 1646.54 505.94 1647.21 505.88 C1647.88 505.82 1648.55 505.79 1649.21 505.78 C1649.88 505.77 1650.55 505.79 1651.22 505.82 C1651.88 505.85 1652.55 505.91 1653.22 505.97 C1653.88 506.03 1654.55 506.11 1655.22 506.19 C1655.88 506.28 1656.55 506.38 1657.22 506.47 C1657.88 506.57 1658.55 506.67 1659.22 506.77 C1659.88 506.87 1660.55 506.97 1661.22 507.06 C1661.88 507.15 1662.55 507.24 1663.22 507.32 C1663.88 507.39 1664.55 507.46 1665.22 507.51 C1665.89 507.56 1666.55 507.60 1667.22 507.62 C1667.89 507.63 1668.55 507.63 1669.22 507.60 C1669.89 507.57 1670.56 507.52 1671.22 507.44 C1671.89 507.37 1672.56 507.28 1673.22 507.16 C1673.89 507.05 1674.56 506.91 1675.22 506.76 C1675.89 506.61 1676.56 506.44 1677.22 506.25 C1677.89 506.06 1678.56 505.86 1679.22 505.64 C1679.90 505.43 1680.56 505.19 1681.22 504.95 C1681.90 504.71 1682.56 504.45 1683.23 504.18 C1683.90 503.91 1684.56 503.63 1685.23 503.35 C1685.90 503.06 1686.56 502.76 1687.23 502.46 C1687.90 502.14 1688.57 501.83 1689.23 501.49 C1689.90 501.14 1690.57 500.77 1691.23 500.38 C1691.91 499.97 1692.58 499.53 1693.23 499.07 C1693.92 498.57 1694.59 498.04 1695.23 497.49 C1695.93 496.88 1696.59 496.24 1697.23 495.57 C1697.93 494.84 1698.60 494.06 1699.23 493.26 C1699.94 492.37 1700.60 491.44 1701.23 490.49 C1701.94 489.43 1702.59 488.34 1703.23 487.23 C1703.93 486.02 1704.59 484.78 1705.23 483.53 C1705.93 482.18 1706.59 480.80 1707.23 479.43 C1707.92 477.95 1708.58 476.47 1709.23 474.98 C1709.92 473.40 1710.58 471.82 1711.23 470.23 C1711.92 468.56 1712.58 466.90 1713.23 465.22 C1713.91 463.49 1714.58 461.75 1715.24 460.01 C1715.91 458.23 1716.57 456.44 1717.24 454.65 C1717.91 452.83 1718.57 451.00 1719.24 449.18 C1719.91 447.33 1720.57 445.49 1721.24 443.64 C1721.90 441.80 1722.57 439.95 1723.24 438.10 C1723.90 436.26 1724.57 434.43 1725.24 432.59 C1725.90 430.77 1726.57 428.94 1727.24 427.12 C1727.90 425.30 1728.57 423.48 1729.24 421.66 C1729.91 419.85 1730.57 418.03 1731.24 416.21 C1731.91 414.39 1732.58 412.57 1733.24 410.75 C1733.91 408.91 1734.58 407.08 1735.24 405.25 C1735.91 403.40 1736.58 401.56 1737.24 399.71 C1737.91 397.84 1738.58 395.98 1739.24 394.11 C1739.91 392.24 1740.57 390.37 1741.24 388.50 C1741.91 386.64 1742.57 384.77 1743.24 382.91 C1743.91 381.07 1744.57 379.23 1745.24 377.40 C1745.90 375.60 1746.57 373.80 1747.25 372.01 C1747.90 370.27 1748.57 368.53 1749.25 366.79 C1749.90 365.12 1750.56 363.45 1751.25 361.79 C1751.90 360.20 1752.56 358.62 1753.25 357.05 C1753.90 355.57 1754.56 354.09 1755.25 352.63 C1755.89 351.26 1756.55 349.90 1757.25 348.56 C1757.89 347.33 1758.55 346.10 1759.25 344.91 C1759.89 343.82 1760.54 342.74 1761.25 341.70 C1761.88 340.78 1762.58 339.90 1763.25 339.00 L1791.60 339.00 C1792.26 338.12 1792.97 337.27 1793.59 336.36 C1794.32 335.30 1794.96 334.18 1795.59 333.06 C1796.30 331.80 1796.95 330.49 1797.58 329.18 C1798.29 327.73 1798.94 326.26 1799.58 324.78 C1800.27 323.16 1800.93 321.54 1801.57 319.90 C1802.26 318.16 1802.92 316.39 1803.57 314.63 C1804.25 312.77 1804.91 310.89 1805.56 309.02 C1806.24 307.06 1806.90 305.09 1807.56 303.13 C1808.23 301.10 1808.89 299.06 1809.55 297.02 C1810.22 294.94 1810.88 292.85 1811.55 290.77 C1812.21 288.65 1812.88 286.53 1813.54 284.42 C1814.21 282.29 1814.87 280.17 1815.53 278.04 C1816.20 275.93 1816.86 273.81 1817.53 271.70 C1818.19 269.59 1818.86 267.49 1819.52 265.38 C1820.19 263.24 1820.86 261.11 1821.52 258.96 C1822.19 256.75 1822.86 254.53 1823.51 252.30 C1824.19 249.96 1824.85 247.62 1825.51 245.27 C1826.19 242.84 1826.84 240.39 1827.50 237.95 C1828.17 235.48 1828.83 233.01 1829.50 230.54 C1830.16 228.11 1830.81 225.68 1831.49 223.25 C1832.14 220.91 1832.81 218.57 1833.49 216.23 C1834.14 213.99 1834.80 211.76 1835.48 209.53 C1836.13 207.41 1836.79 205.29 1837.47 203.18 C1838.12 201.20 1838.78 199.22 1839.47 197.25 C1840.11 195.42 1840.77 193.59 1841.46 191.78 C1842.10 190.12 1842.76 188.46 1843.46 186.82 C1844.09 185.34 1844.74 183.86 1845.45 182.42 C1846.08 181.13 1846.73 179.86 1847.45 178.62 C1848.07 177.54 1848.72 176.47 1849.44 175.45 C1850.07 174.57 1850.72 173.70 1851.44 172.89 C1852.06 172.19 1852.71 171.50 1853.43 170.90 C1854.06 170.37 1854.72 169.86 1855.42 169.45 C1856.06 169.08 1856.75 168.82 1857.42 168.51 C1858.06 168.59 1858.72 168.57 1859.33 168.76 C1860.02 168.98 1860.64 169.38 1861.24 169.79 C1861.94 170.27 1862.55 170.86 1863.15 171.45 C1863.84 172.12 1864.45 172.86 1865.06 173.60 C1865.73 174.41 1866.35 175.25 1866.98 176.09 C1867.63 176.97 1868.25 177.87 1868.89 178.76 C1869.53 179.67 1870.15 180.58 1870.80 181.48 C1871.43 182.36 1872.05 183.24 1872.71 184.09 C1873.33 184.90 1873.95 185.70 1874.62 186.45 C1875.23 187.14 1875.84 187.82 1876.53 188.42 C1877.13 188.93 1877.74 189.46 1878.44 189.83 C1879.05 190.15 1879.72 190.31 1880.36 190.55 C1881.01 190.22 1881.70 189.95 1882.32 189.57 C1883.02 189.14 1883.66 188.62 1884.28 188.08 C1884.98 187.47 1885.62 186.80 1886.25 186.11 C1886.94 185.35 1887.58 184.54 1888.21 183.72 C1888.90 182.81 1889.54 181.87 1890.17 180.93 C1890.86 179.90 1891.50 178.85 1892.14 177.79 C1892.82 176.65 1893.46 175.50 1894.10 174.34 C1894.78 173.11 1895.43 171.87 1896.06 170.62 C1896.74 169.32 1897.39 168.00 1898.03 166.68 C1898.70 165.31 1899.35 163.93 1899.99 162.55 C1900.66 161.13 1901.31 159.70 1901.96 158.27 C1902.62 156.81 1903.27 155.35 1903.92 153.89 C1904.58 152.41 1905.23 150.93 1905.88 149.44 C1906.54 147.95 1907.19 146.46 1907.85 144.98 C1908.50 143.49 1909.15 142.01 1909.81 140.53 C1910.46 139.06 1911.11 137.60 1911.77 136.14 C1912.42 134.70 1913.07 133.27 1913.74 131.85 C1914.38 130.46 1915.03 129.07 1915.70 127.70 C1916.34 126.37 1916.99 125.05 1917.66 123.73 C1918.30 122.48 1918.95 121.23 1919.63 119.99 C1920.26 118.82 1920.91 117.65 1921.59 116.51 C1922.23 115.44 1922.87 114.37 1923.55 113.33 C1924.19 112.38 1924.83 111.42 1925.52 110.51 C1926.15 109.67 1926.79 108.85 1927.48 108.07 C1928.11 107.37 1928.75 106.68 1929.45 106.05 C1930.07 105.50 1930.71 104.96 1931.41 104.51 C1932.03 104.11 1932.68 103.73 1933.37 103.47 C1934.00 103.24 1934.67 103.05 1935.34 102.99 C1935.99 102.93 1936.65 103.06 1937.30 103.10 C1937.97 103.02 1938.65 102.80 1939.32 102.86 C1940.02 102.91 1940.71 103.15 1941.35 103.44 C1942.09 103.78 1942.75 104.30 1943.37 104.82 C1944.13 105.45 1944.77 106.20 1945.40 106.95 C1946.14 107.84 1946.79 108.82 1947.42 109.79 C1948.16 110.93 1948.81 112.12 1949.45 113.31 C1950.17 114.67 1950.82 116.06 1951.47 117.45 C1952.18 118.97 1952.84 120.51 1953.50 122.05 C1954.19 123.67 1954.85 125.30 1955.52 126.92 C1956.20 128.57 1956.86 130.22 1957.54 131.86 C1958.21 133.46 1958.87 135.06 1959.57 136.64 C1960.23 138.14 1960.89 139.63 1961.59 141.11 C1962.24 142.48 1962.91 143.85 1963.62 145.19 C1964.26 146.40 1964.93 147.61 1965.64 148.79 C1966.28 149.84 1966.95 150.89 1967.67 151.90 C1968.31 152.81 1968.98 153.70 1969.69 154.55 C1970.34 155.33 1971.01 156.08 1971.72 156.79 C1972.36 157.45 1973.03 158.08 1973.74 158.67 C1974.39 159.21 1975.06 159.73 1975.76 160.20 C1976.42 160.65 1977.09 161.07 1977.79 161.45 C1978.45 161.82 1979.12 162.15 1979.81 162.45 C1980.48 162.74 1981.15 163.00 1981.84 163.24 C1982.50 163.47 1983.18 163.67 1983.86 163.86 C1984.53 164.04 1985.21 164.20 1985.89 164.35 C1986.56 164.50 1987.23 164.63 1987.91 164.76 C1988.58 164.88 1989.26 165.00 1989.94 165.12 C1990.61 165.24 1991.29 165.35 1991.96 165.47 C1992.64 165.59 1993.31 165.72 1993.98 165.86 C1994.66 166.00 1995.34 166.15 1996.01 166.33 C1996.69 166.50 1997.36 166.71 1998.03 166.91 C1998.72 166.77 1999.40 166.65 2000.08 166.51 C2000.77 166.37 2001.45 166.23 2002.13 166.08 C2002.82 165.92 2003.50 165.76 2004.18 165.58 C2004.87 165.40 2005.55 165.20 2006.23 164.98 C2006.92 164.77 2007.60 164.53 2008.28 164.28 C2008.97 164.03 2009.65 163.76 2010.33 163.49 C2011.02 163.21 2011.70 162.92 2012.38 162.63 C2013.07 162.33 2013.75 162.03 2014.43 161.72 C2015.12 161.42 2015.80 161.11 2016.48 160.80 C2017.15 160.96 2017.83 161.06 2018.48 161.27 C2019.16 161.50 2019.83 161.80 2020.47 162.13 C2021.16 162.48 2021.83 162.90 2022.47 163.34 C2023.16 163.82 2023.82 164.36 2024.46 164.91 C2025.16 165.50 2025.81 166.14 2026.46 166.79 C2027.15 167.50 2027.81 168.24 2028.45 168.99 C2029.14 169.80 2029.80 170.64 2030.44 171.48 C2031.13 172.39 2031.79 173.32 2032.44 174.25 C2033.13 175.25 2033.79 176.26 2034.43 177.28 C2035.12 178.36 2035.78 179.45 2036.43 180.55 C2037.11 181.70 2037.77 182.87 2038.42 184.04 C2039.10 185.27 2039.76 186.50 2040.42 187.75 C2041.10 189.04 2041.76 190.34 2042.41 191.65 C2043.09 193.00 2043.75 194.36 2044.41 195.73 C2045.08 197.14 2045.75 198.56 2046.40 199.98 C2047.08 201.45 2047.74 202.92 2048.40 204.39 C2049.07 205.91 2049.73 207.43 2050.39 208.95 C2051.06 210.51 2051.73 212.07 2052.38 213.64 C2053.06 215.24 2053.72 216.85 2054.38 218.46 C2055.05 220.10 2055.71 221.74 2056.37 223.38 C2057.04 225.06 2057.71 226.73 2058.37 228.41 C2059.04 230.11 2059.70 231.82 2060.36 233.53 C2061.03 235.25 2061.70 236.99 2062.36 238.72 C2063.03 240.47 2063.69 242.22 2064.35 243.98 C2065.02 245.75 2065.68 247.52 2066.35 249.29 C2067.01 251.07 2067.68 252.86 2068.34 254.64 C2069.01 256.44 2069.67 258.23 2070.33 260.02 C2071.00 261.82 2071.66 263.62 2072.33 265.42 C2072.99 267.22 2073.66 269.02 2074.32 270.82 C2074.99 272.61 2075.65 274.41 2076.32 276.21 C2076.98 277.99 2077.65 279.78 2078.31 281.57 C2078.98 283.34 2079.64 285.11 2080.31 286.89 C2080.97 288.64 2081.63 290.40 2082.30 292.16 C2082.96 293.89 2083.63 295.63 2084.30 297.36 C2084.96 299.07 2085.62 300.78 2086.29 302.48 C2086.95 304.16 2087.61 305.84 2088.29 307.51 C2088.94 309.16 2089.61 310.80 2090.28 312.44 C2090.94 314.04 2091.60 315.64 2092.27 317.24 C2092.93 318.80 2093.60 320.36 2094.27 321.91 C2094.93 323.42 2095.59 324.93 2096.26 326.44 C2096.92 327.90 2097.58 329.35 2098.26 330.80 C2098.91 332.21 2099.59 333.60 2100.25 334.99" stroke="#008000"/>
<path d="M1989.00 340.80 C1994.28 340.80 1999.57 340.80 2004.85 340.80 C2005.50 339.90 2006.19 339.02 2006.79 338.09 C2007.50 337.01 2008.13 335.87 2008.74 334.72 C2009.43 333.42 2010.06 332.08 2010.68 330.75 C2011.37 329.26 2012.00 327.75 2012.63 326.23 C2013.30 324.58 2013.94 322.91 2014.57 321.24 C2015.24 319.45 2015.88 317.65 2016.51 315.84 C2017.18 313.93 2017.82 312.01 2018.46 310.09 C2019.12 308.08 2019.76 306.07 2020.40 304.06 C2021.06 301.98 2021.70 299.89 2022.35 297.80 C2023.00 295.67 2023.65 293.53 2024.29 291.40 C2024.94 289.23 2025.59 287.06 2026.23 284.89 C2026.88 282.72 2027.53 280.54 2028.18 278.36 C2028.82 276.20 2029.47 274.03 2030.12 271.87 C2030.77 269.71 2031.42 267.55 2032.07 265.40 C2032.72 263.21 2033.37 261.02 2034.01 258.82 C2034.67 256.55 2035.32 254.28 2035.95 252.00 C2036.62 249.60 2037.26 247.20 2037.90 244.80 C2038.56 242.30 2039.20 239.80 2039.84 237.30 C2040.49 234.77 2041.13 232.23 2041.78 229.71 C2042.43 227.22 2043.07 224.73 2043.73 222.25 C2044.37 219.85 2045.01 217.45 2045.67 215.05 C2046.31 212.76 2046.95 210.47 2047.62 208.19 C2048.25 206.01 2048.89 203.85 2049.56 201.69 C2050.19 199.66 2050.83 197.63 2051.50 195.61 C2052.13 193.74 2052.77 191.87 2053.45 190.01 C2054.07 188.31 2054.71 186.61 2055.39 184.93 C2056.01 183.41 2056.64 181.90 2057.34 180.42 C2057.95 179.10 2058.58 177.80 2059.28 176.53 C2059.89 175.42 2060.52 174.33 2061.22 173.28 C2061.83 172.38 2062.46 171.49 2063.17 170.66 C2063.78 169.94 2064.41 169.24 2065.11 168.62 C2065.72 168.08 2066.36 167.56 2067.06 167.14 C2067.67 166.76 2068.35 166.50 2069.00 166.17 C2069.61 166.26 2070.25 166.24 2070.83 166.43 C2071.50 166.65 2072.10 167.07 2072.67 167.49 C2073.34 167.97 2073.92 168.59 2074.50 169.19 C2075.16 169.88 2075.75 170.64 2076.33 171.39 C2076.98 172.21 2077.57 173.08 2078.17 173.93 C2078.79 174.84 2079.39 175.76 2080.00 176.67 C2080.61 177.60 2081.21 178.54 2081.83 179.46 C2082.44 180.36 2083.03 181.26 2083.67 182.14 C2084.26 182.96 2084.85 183.78 2085.50 184.55 C2086.08 185.25 2086.67 185.95 2087.33 186.56 C2087.91 187.09 2088.49 187.63 2089.17 188.01 C2089.71 188.31 2090.29 188.61 2090.90 188.71 C2092.61 188.99 2094.02 187.20 2095.50 186.30 C2096.89 185.45 2098.17 184.43 2099.50 183.50" stroke="#C414FF"/>
</g>
<g font-family="Liberation Serif, 'Times New Roman', serif" font-size="67" fill="#000">
<text x="110.6" y="133" transform="translate(0 110.50) scale(1 1.043) translate(0 -110.50)"><tspan dx="2">1</tspan><tspan dx="-2">5</tspan></text>
<text x="129.35" y="362.2" transform="translate(0 339.70) scale(1 1.043) translate(0 -339.70)">0</text>
<text x="86.2" y="583.9" transform="translate(0 561.40) scale(1 1.043) translate(0 -561.40)">-<tspan dx="1">1</tspan><tspan dx="-1">5</tspan></text>
<text x="569.3" y="731.8" transform="translate(0 709.30) scale(1 1.043) translate(0 -709.30)">50</text>
<text x="907.2" y="729.2" transform="translate(0 706.70) scale(1 1.043) translate(0 -706.70)"><tspan dx="2.5">1</tspan><tspan dx="-2.5">00</tspan></text>
<text x="1294" y="731.3" transform="translate(0 708.80) scale(1 1.043) translate(0 -708.80)"><tspan dx="2.5">1</tspan><tspan dx="-2.5">50</tspan></text>
<text x="1686.6" y="735.3" transform="translate(0 712.80) scale(1 1.043) translate(0 -712.80)">200</text>
<text x="2000.7" y="733.9" transform="translate(0 711.40) scale(1 1.043) translate(0 -711.40)">250</text>
<text x="1001.9" y="822">Time (ms)</text>
<text transform="translate(73.6 465.5) rotate(-90)">Current (A)</text>
</g>
<g font-family="Liberation Serif, 'Times New Roman', serif" font-size="67">
<text x="898.9" y="78" fill="#0000FF">Phase&#8722;A</text>
<text x="1171" y="78" fill="#008000">Phase&#8722;B</text>
<text x="1443" y="84" fill="#C414FF">Phase&#8722;C</text>
</g>
</svg>
</body></html>
